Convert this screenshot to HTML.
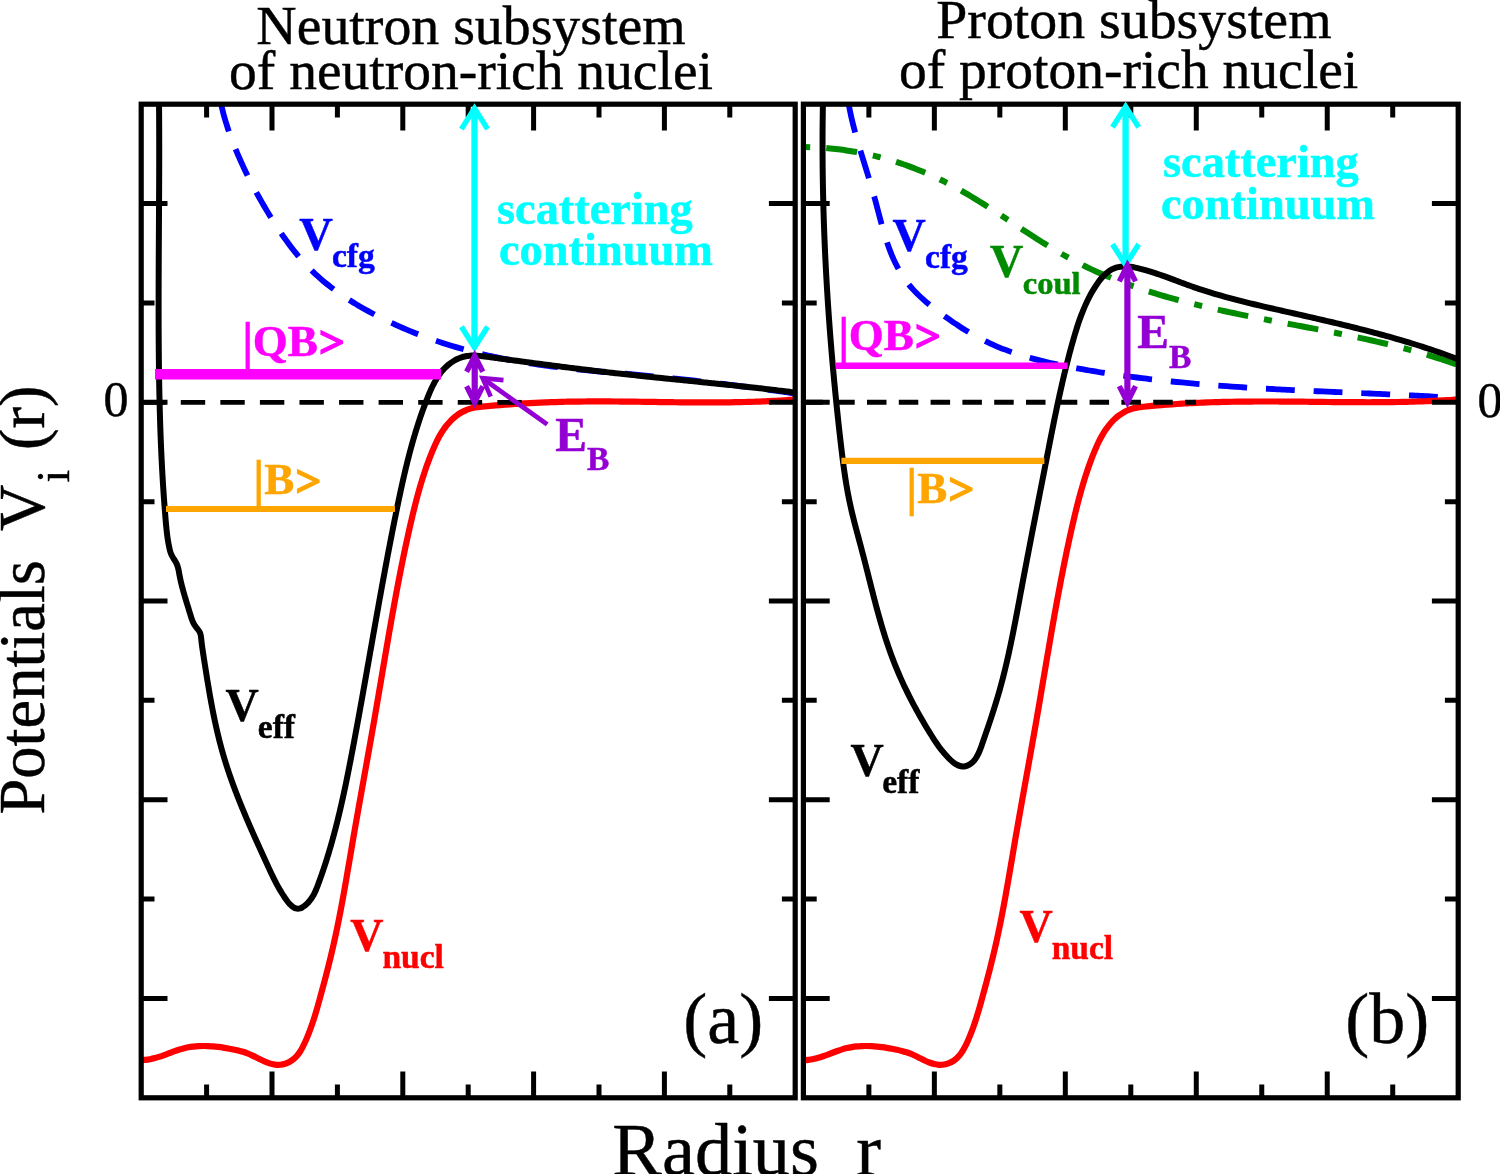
<!DOCTYPE html>
<html lang="en"><head><meta charset="utf-8"><title>Potentials of neutron-rich and proton-rich nuclei</title>
<style>
html,body{margin:0;padding:0;background:#fff;}
body{width:1500px;height:1174px;overflow:hidden;}
svg{display:block;}
text{font-family:"Liberation Serif","Times New Roman",Times,serif;}
.b{font-weight:bold;}
</style></head><body>
<svg width="1500" height="1174" viewBox="0 0 1500 1174" role="img" aria-label="Schematic potentials for neutron-rich and proton-rich nuclei">
<rect x="0" y="0" width="1500" height="1174" fill="#ffffff"/>
<defs>
<clipPath id="ca"><rect x="141.20" y="104.20" width="654.00" height="993.60"/></clipPath>
<clipPath id="cb"><rect x="803.40" y="104.20" width="654.80" height="993.60"/></clipPath>
</defs>
<g id="panel-a-curves">
<path d="M220.30 100.00 C220.47 100.82 220.95 103.29 221.31 104.92 C221.67 106.56 222.05 108.18 222.45 109.81 C222.84 111.43 223.26 113.04 223.69 114.65 C224.13 116.26 224.58 117.86 225.04 119.46 C225.51 121.06 225.99 122.65 226.49 124.24 C226.99 125.83 227.51 127.41 228.03 128.99 C228.56 130.57 229.11 132.14 229.66 133.71 C230.22 135.28 230.79 136.85 231.37 138.41 C231.96 139.97 232.55 141.53 233.16 143.08 C233.77 144.63 234.38 146.18 235.01 147.73 C235.64 149.28 236.28 150.82 236.93 152.36 C237.58 153.90 238.24 155.44 238.91 156.97 C239.58 158.50 240.26 160.03 240.94 161.56 C241.63 163.09 242.33 164.61 243.04 166.13 C243.75 167.65 244.46 169.16 245.19 170.68 C245.91 172.19 246.65 173.70 247.39 175.20 C248.14 176.71 248.89 178.21 249.65 179.71 C250.41 181.21 251.18 182.70 251.96 184.19 C252.73 185.68 253.52 187.17 254.31 188.66 C255.11 190.14 255.91 191.62 256.72 193.09 C257.53 194.57 258.34 196.04 259.17 197.51 C259.99 198.98 260.82 200.44 261.66 201.90 C262.50 203.36 263.35 204.82 264.20 206.27 C265.06 207.72 265.92 209.17 266.78 210.61 C267.65 212.06 268.52 213.50 269.40 214.93 C270.28 216.37 271.17 217.80 272.06 219.23 C272.95 220.66 273.85 222.08 274.76 223.50 C275.67 224.91 276.58 226.32 277.50 227.73 C278.42 229.13 279.35 230.53 280.29 231.93 C281.23 233.32 282.18 234.70 283.13 236.08 C284.09 237.45 285.06 238.82 286.03 240.18 C287.01 241.54 288.00 242.89 288.99 244.23 C289.99 245.57 291.00 246.91 292.02 248.23 C293.04 249.55 294.07 250.86 295.12 252.15 C296.16 253.45 297.21 254.74 298.28 256.01 C299.35 257.29 300.44 258.55 301.53 259.80 C302.63 261.05 303.74 262.28 304.86 263.50 C305.99 264.73 307.12 265.93 308.28 267.13 C309.43 268.32 310.60 269.50 311.79 270.66 C312.97 271.82 314.17 272.97 315.39 274.10 C316.60 275.23 317.83 276.34 319.08 277.45 C320.32 278.55 321.58 279.63 322.85 280.71 C324.13 281.78 325.41 282.84 326.71 283.88 C328.01 284.92 329.32 285.95 330.64 286.97 C331.96 287.99 333.30 288.99 334.64 289.98 C335.99 290.97 337.34 291.94 338.71 292.91 C340.08 293.87 341.46 294.82 342.84 295.76 C344.23 296.70 345.63 297.63 347.03 298.54 C348.44 299.45 349.85 300.36 351.28 301.25 C352.70 302.14 354.13 303.02 355.57 303.88 C357.01 304.75 358.45 305.61 359.90 306.46 C361.36 307.30 362.82 308.14 364.28 308.96 C365.75 309.79 367.22 310.60 368.69 311.41 C370.17 312.21 371.65 313.00 373.14 313.79 C374.62 314.57 376.11 315.35 377.61 316.12 C379.10 316.88 380.60 317.64 382.10 318.39 C383.60 319.13 385.11 319.87 386.62 320.60 C388.13 321.33 389.65 322.05 391.17 322.76 C392.69 323.47 394.21 324.17 395.74 324.86 C397.27 325.55 398.80 326.23 400.33 326.91 C401.87 327.58 403.40 328.24 404.95 328.90 C406.49 329.55 408.03 330.20 409.58 330.84 C411.13 331.48 412.69 332.10 414.24 332.72 C415.80 333.34 417.36 333.96 418.92 334.56 C420.48 335.16 422.05 335.75 423.62 336.34 C425.19 336.93 426.76 337.50 428.33 338.07 C429.91 338.64 431.49 339.20 433.07 339.75 C434.65 340.30 436.24 340.84 437.82 341.38 C439.41 341.91 441.00 342.44 442.59 342.96 C444.19 343.48 445.78 343.99 447.38 344.49 C448.98 344.99 450.58 345.48 452.18 345.97 C453.78 346.46 455.39 346.93 457.00 347.40 C458.61 347.87 460.22 348.34 461.83 348.79 C463.44 349.24 465.06 349.69 466.67 350.13 C468.29 350.57 469.91 351.00 471.53 351.42 C473.15 351.84 474.77 352.26 476.40 352.67 C478.02 353.07 479.65 353.47 481.28 353.87 C482.91 354.26 484.54 354.64 486.17 355.02 C487.80 355.40 489.44 355.77 491.07 356.13 C492.71 356.50 494.34 356.85 495.98 357.20 C497.62 357.55 499.26 357.89 500.90 358.23 C502.54 358.56 504.18 358.89 505.83 359.21 C507.47 359.53 509.12 359.84 510.76 360.15 C512.41 360.45 514.05 360.75 515.70 361.05 C517.35 361.34 519.00 361.62 520.65 361.90 C522.30 362.18 523.95 362.45 525.60 362.72 C527.25 362.99 528.90 363.24 530.56 363.50 C532.21 363.75 533.86 364.00 535.52 364.24 C537.17 364.48 538.83 364.72 540.49 364.95 C542.14 365.18 543.80 365.40 545.46 365.62 C547.11 365.84 548.77 366.06 550.43 366.27 C552.09 366.48 553.75 366.69 555.41 366.89 C557.07 367.09 558.73 367.29 560.39 367.48 C562.05 367.67 563.71 367.86 565.37 368.05 C567.04 368.23 568.70 368.42 570.36 368.60 C572.03 368.77 573.69 368.95 575.35 369.12 C577.02 369.30 578.68 369.46 580.35 369.63 C582.01 369.80 583.68 369.96 585.34 370.13 C587.01 370.29 588.67 370.45 590.34 370.61 C592.00 370.76 593.67 370.92 595.34 371.07 C597.00 371.23 598.67 371.38 600.34 371.53 C602.01 371.69 603.67 371.84 605.34 371.99 C607.01 372.14 608.68 372.28 610.34 372.43 C612.01 372.58 613.68 372.73 615.35 372.88 C617.01 373.02 618.68 373.17 620.35 373.32 C622.02 373.47 623.69 373.61 625.36 373.76 C627.02 373.91 628.69 374.06 630.36 374.21 C632.03 374.36 633.70 374.51 635.36 374.66 C637.03 374.81 638.70 374.96 640.37 375.12 C642.04 375.27 643.70 375.43 645.37 375.59 C647.04 375.74 648.71 375.90 650.37 376.06 C652.04 376.22 653.71 376.38 655.38 376.55 C657.04 376.71 658.71 376.88 660.38 377.04 C662.04 377.21 663.71 377.38 665.38 377.54 C667.04 377.71 668.71 377.88 670.38 378.06 C672.04 378.23 673.71 378.40 675.37 378.58 C677.04 378.75 678.71 378.93 680.37 379.10 C682.04 379.28 683.70 379.46 685.37 379.64 C687.03 379.82 688.70 380.00 690.36 380.19 C692.03 380.37 693.69 380.56 695.36 380.74 C697.02 380.93 698.69 381.12 700.35 381.31 C702.02 381.49 703.68 381.68 705.34 381.88 C707.01 382.07 708.67 382.26 710.33 382.46 C712.00 382.65 713.66 382.85 715.32 383.04 C716.99 383.24 718.65 383.44 720.31 383.64 C721.98 383.84 723.64 384.04 725.30 384.24 C726.96 384.44 728.63 384.65 730.29 384.85 C731.95 385.06 733.61 385.26 735.27 385.47 C736.94 385.68 738.60 385.89 740.26 386.10 C741.92 386.31 743.58 386.52 745.24 386.73 C746.90 386.95 748.56 387.16 750.22 387.38 C751.88 387.59 753.55 387.81 755.21 388.03 C756.87 388.25 758.52 388.47 760.18 388.69 C761.84 388.91 763.50 389.13 765.16 389.35 C766.82 389.57 768.48 389.80 770.14 390.02 C771.80 390.25 773.46 390.48 775.11 390.71 C776.77 390.93 778.43 391.16 780.09 391.39 C781.75 391.62 783.40 391.86 785.06 392.09 C786.72 392.32 788.37 392.56 790.03 392.79 C791.69 393.03 794.17 393.38 795.00 393.50" fill="none" stroke="#0000ff" stroke-width="5.80" stroke-linejoin="round" stroke-linecap="butt" stroke-dasharray="29 19" stroke-dashoffset="-3.50" clip-path="url(#ca)"/>
<path d="M140.00 1059.90 C140.85 1059.89 143.42 1059.96 145.09 1059.85 C146.77 1059.73 148.42 1059.50 150.06 1059.21 C151.70 1058.92 153.32 1058.54 154.93 1058.11 C156.54 1057.69 158.13 1057.19 159.72 1056.67 C161.31 1056.15 162.88 1055.57 164.46 1054.99 C166.04 1054.42 167.61 1053.80 169.18 1053.21 C170.75 1052.62 172.32 1052.00 173.90 1051.43 C175.47 1050.86 177.05 1050.29 178.64 1049.79 C180.22 1049.28 181.82 1048.80 183.42 1048.38 C185.03 1047.97 186.65 1047.62 188.28 1047.32 C189.90 1047.02 191.54 1046.78 193.19 1046.58 C194.83 1046.39 196.49 1046.25 198.15 1046.15 C199.80 1046.05 201.47 1046.01 203.14 1046.00 C204.80 1045.99 206.48 1046.03 208.15 1046.10 C209.82 1046.17 211.50 1046.28 213.17 1046.42 C214.84 1046.56 216.52 1046.74 218.19 1046.94 C219.86 1047.15 221.53 1047.38 223.19 1047.64 C224.85 1047.90 226.52 1048.18 228.17 1048.48 C229.82 1048.78 231.47 1049.10 233.11 1049.44 C234.74 1049.78 236.37 1050.13 237.99 1050.52 C239.60 1050.92 241.21 1051.32 242.79 1051.80 C244.36 1052.28 245.93 1052.80 247.46 1053.39 C249.00 1053.98 250.51 1054.64 252.02 1055.33 C253.52 1056.02 255.00 1056.78 256.49 1057.52 C257.99 1058.26 259.46 1059.06 260.98 1059.79 C262.49 1060.53 264.02 1061.27 265.58 1061.91 C267.14 1062.54 268.74 1063.15 270.36 1063.61 C271.97 1064.06 273.62 1064.45 275.27 1064.63 C276.91 1064.82 278.58 1064.88 280.23 1064.74 C281.87 1064.59 283.55 1064.24 285.13 1063.75 C286.72 1063.25 288.29 1062.57 289.74 1061.77 C291.18 1060.97 292.54 1060.01 293.78 1058.96 C295.03 1057.92 296.15 1056.73 297.21 1055.48 C298.27 1054.24 299.23 1052.88 300.14 1051.49 C301.04 1050.09 301.87 1048.61 302.66 1047.12 C303.45 1045.63 304.18 1044.08 304.89 1042.55 C305.61 1041.01 306.28 1039.45 306.94 1037.90 C307.60 1036.35 308.23 1034.79 308.84 1033.23 C309.45 1031.67 310.04 1030.10 310.61 1028.53 C311.18 1026.96 311.73 1025.39 312.27 1023.82 C312.81 1022.24 313.32 1020.66 313.83 1019.08 C314.34 1017.50 314.83 1015.91 315.31 1014.32 C315.79 1012.74 316.26 1011.15 316.73 1009.55 C317.19 1007.96 317.65 1006.37 318.10 1004.77 C318.55 1003.17 318.99 1001.57 319.43 999.97 C319.88 998.37 320.31 996.77 320.75 995.16 C321.19 993.56 321.63 991.95 322.06 990.35 C322.50 988.74 322.93 987.13 323.36 985.52 C323.79 983.91 324.22 982.30 324.65 980.69 C325.07 979.07 325.50 977.46 325.92 975.84 C326.34 974.23 326.75 972.61 327.17 970.99 C327.58 969.38 327.99 967.76 328.40 966.14 C328.81 964.52 329.21 962.90 329.61 961.27 C330.01 959.65 330.41 958.03 330.80 956.40 C331.19 954.78 331.58 953.16 331.96 951.53 C332.34 949.90 332.72 948.28 333.09 946.65 C333.47 945.02 333.84 943.39 334.20 941.76 C334.56 940.13 334.92 938.50 335.27 936.87 C335.63 935.24 335.98 933.61 336.32 931.98 C336.67 930.35 337.01 928.72 337.34 927.08 C337.68 925.45 338.01 923.82 338.34 922.18 C338.67 920.55 338.99 918.91 339.31 917.28 C339.64 915.64 339.95 914.00 340.27 912.37 C340.58 910.73 340.89 909.09 341.20 907.46 C341.51 905.82 341.82 904.18 342.12 902.54 C342.42 900.90 342.72 899.27 343.02 897.63 C343.32 895.99 343.62 894.35 343.91 892.71 C344.20 891.07 344.49 889.43 344.78 887.79 C345.07 886.15 345.36 884.51 345.65 882.87 C345.93 881.23 346.22 879.59 346.50 877.95 C346.79 876.30 347.07 874.66 347.35 873.02 C347.63 871.38 347.91 869.74 348.19 868.10 C348.47 866.46 348.75 864.81 349.03 863.17 C349.31 861.53 349.59 859.89 349.87 858.25 C350.15 856.61 350.43 854.96 350.71 853.32 C350.98 851.68 351.26 850.04 351.54 848.40 C351.82 846.76 352.10 845.12 352.38 843.47 C352.66 841.83 352.94 840.19 353.23 838.55 C353.51 836.91 353.79 835.27 354.08 833.63 C354.36 831.99 354.65 830.35 354.93 828.71 C355.22 827.07 355.51 825.43 355.79 823.79 C356.08 822.15 356.37 820.51 356.66 818.87 C356.95 817.23 357.24 815.59 357.53 813.95 C357.82 812.31 358.11 810.67 358.40 809.03 C358.69 807.39 358.98 805.75 359.27 804.11 C359.56 802.47 359.86 800.83 360.15 799.19 C360.44 797.56 360.74 795.92 361.03 794.28 C361.32 792.64 361.62 791.00 361.91 789.36 C362.20 787.72 362.50 786.08 362.79 784.44 C363.09 782.80 363.38 781.16 363.68 779.52 C363.97 777.88 364.27 776.24 364.56 774.60 C364.86 772.96 365.15 771.32 365.44 769.68 C365.74 768.05 366.03 766.41 366.33 764.77 C366.62 763.13 366.92 761.48 367.21 759.84 C367.50 758.20 367.80 756.56 368.09 754.92 C368.39 753.28 368.68 751.64 368.97 750.00 C369.26 748.36 369.56 746.72 369.85 745.08 C370.14 743.44 370.43 741.80 370.72 740.15 C371.01 738.51 371.30 736.87 371.59 735.23 C371.88 733.59 372.17 731.94 372.46 730.30 C372.75 728.66 373.04 727.01 373.33 725.37 C373.61 723.73 373.90 722.09 374.19 720.44 C374.47 718.80 374.76 717.15 375.04 715.51 C375.33 713.86 375.61 712.22 375.89 710.58 C376.17 708.93 376.46 707.29 376.74 705.64 C377.02 704.00 377.30 702.35 377.58 700.70 C377.86 699.06 378.14 697.41 378.42 695.77 C378.70 694.12 378.98 692.47 379.26 690.83 C379.54 689.18 379.82 687.54 380.10 685.89 C380.38 684.24 380.66 682.60 380.94 680.95 C381.21 679.30 381.49 677.66 381.77 676.01 C382.05 674.36 382.33 672.72 382.61 671.07 C382.89 669.42 383.17 667.78 383.44 666.13 C383.72 664.49 384.00 662.84 384.28 661.19 C384.56 659.55 384.84 657.90 385.12 656.25 C385.40 654.61 385.68 652.96 385.97 651.32 C386.25 649.67 386.53 648.02 386.81 646.38 C387.09 644.73 387.38 643.09 387.66 641.44 C387.94 639.80 388.23 638.15 388.51 636.51 C388.80 634.86 389.08 633.22 389.37 631.57 C389.66 629.93 389.95 628.29 390.23 626.64 C390.52 625.00 390.81 623.36 391.10 621.71 C391.39 620.07 391.69 618.43 391.98 616.78 C392.27 615.14 392.57 613.50 392.86 611.86 C393.16 610.22 393.45 608.58 393.75 606.94 C394.05 605.29 394.35 603.65 394.65 602.01 C394.95 600.37 395.25 598.74 395.56 597.10 C395.86 595.46 396.17 593.82 396.47 592.18 C396.78 590.54 397.09 588.91 397.40 587.27 C397.71 585.63 398.02 584.00 398.34 582.36 C398.65 580.73 398.97 579.09 399.28 577.46 C399.60 575.82 399.92 574.19 400.24 572.55 C400.56 570.92 400.89 569.29 401.21 567.66 C401.54 566.03 401.87 564.39 402.20 562.76 C402.53 561.13 402.86 559.50 403.19 557.87 C403.53 556.25 403.86 554.62 404.20 552.99 C404.54 551.36 404.88 549.74 405.23 548.11 C405.57 546.48 405.92 544.86 406.27 543.23 C406.62 541.61 406.97 539.99 407.32 538.36 C407.68 536.74 408.04 535.12 408.40 533.50 C408.75 531.88 409.12 530.26 409.48 528.64 C409.85 527.02 410.22 525.40 410.59 523.79 C410.96 522.17 411.33 520.55 411.71 518.94 C412.09 517.32 412.47 515.71 412.86 514.10 C413.25 512.48 413.64 510.87 414.04 509.26 C414.44 507.65 414.84 506.04 415.25 504.43 C415.66 502.82 416.07 501.22 416.50 499.61 C416.92 498.01 417.35 496.40 417.79 494.80 C418.22 493.20 418.67 491.59 419.12 489.99 C419.58 488.39 420.04 486.79 420.51 485.20 C420.98 483.60 421.46 482.00 421.96 480.41 C422.45 478.82 422.95 477.22 423.46 475.63 C423.97 474.04 424.50 472.45 425.03 470.86 C425.57 469.27 426.11 467.69 426.67 466.10 C427.23 464.52 427.80 462.94 428.39 461.36 C428.97 459.77 429.57 458.19 430.18 456.62 C430.80 455.04 431.42 453.46 432.06 451.89 C432.71 450.32 433.36 448.75 434.05 447.20 C434.73 445.65 435.43 444.10 436.16 442.58 C436.90 441.06 437.65 439.55 438.44 438.07 C439.23 436.59 440.05 435.13 440.91 433.70 C441.77 432.27 442.66 430.87 443.60 429.51 C444.53 428.15 445.51 426.82 446.53 425.53 C447.55 424.25 448.62 423.00 449.74 421.81 C450.86 420.61 452.03 419.46 453.25 418.37 C454.48 417.27 455.76 416.23 457.09 415.26 C458.42 414.29 459.81 413.37 461.24 412.54 C462.66 411.72 464.14 410.96 465.65 410.31 C467.16 409.66 468.72 409.10 470.30 408.64 C471.89 408.17 473.51 407.83 475.15 407.52 C476.79 407.22 478.46 407.01 480.12 406.80 C481.79 406.60 483.47 406.46 485.15 406.30 C486.82 406.15 488.50 406.01 490.17 405.87 C491.84 405.72 493.51 405.59 495.17 405.46 C496.84 405.32 498.51 405.20 500.17 405.07 C501.84 404.94 503.50 404.82 505.16 404.70 C506.83 404.58 508.49 404.46 510.15 404.35 C511.81 404.23 513.48 404.12 515.14 404.01 C516.80 403.90 518.46 403.79 520.12 403.68 C521.79 403.58 523.45 403.48 525.11 403.38 C526.77 403.28 528.43 403.18 530.09 403.09 C531.76 403.00 533.42 402.92 535.08 402.83 C536.74 402.75 538.40 402.67 540.07 402.59 C541.73 402.52 543.39 402.45 545.06 402.38 C546.72 402.32 548.38 402.25 550.04 402.19 C551.71 402.14 553.37 402.08 555.04 402.03 C556.70 401.98 558.36 401.93 560.03 401.89 C561.69 401.85 563.36 401.81 565.02 401.77 C566.68 401.73 568.35 401.70 570.01 401.67 C571.68 401.64 573.34 401.61 575.01 401.59 C576.67 401.57 578.34 401.55 580.00 401.53 C581.67 401.51 583.34 401.50 585.00 401.48 C586.67 401.47 588.33 401.46 590.00 401.45 C591.67 401.45 593.33 401.44 595.00 401.44 C596.66 401.44 598.33 401.43 600.00 401.44 C601.66 401.44 603.33 401.44 605.00 401.45 C606.66 401.45 608.33 401.46 610.00 401.47 C611.66 401.48 613.33 401.49 615.00 401.50 C616.67 401.51 618.33 401.52 620.00 401.54 C621.67 401.55 623.34 401.57 625.00 401.59 C626.67 401.60 628.34 401.62 630.01 401.64 C631.67 401.66 633.34 401.68 635.01 401.70 C636.68 401.72 638.35 401.74 640.01 401.76 C641.68 401.79 643.35 401.81 645.02 401.83 C646.68 401.85 648.35 401.88 650.02 401.90 C651.69 401.92 653.36 401.94 655.03 401.97 C656.69 401.99 658.36 402.01 660.03 402.04 C661.70 402.06 663.37 402.08 665.03 402.10 C666.70 402.13 668.37 402.15 670.04 402.17 C671.71 402.19 673.37 402.21 675.04 402.23 C676.71 402.25 678.38 402.27 680.05 402.28 C681.72 402.30 683.38 402.32 685.05 402.33 C686.72 402.35 688.39 402.36 690.06 402.37 C691.72 402.39 693.39 402.40 695.06 402.41 C696.73 402.42 698.40 402.42 700.06 402.43 C701.73 402.44 703.40 402.44 705.07 402.44 C706.73 402.44 708.40 402.44 710.07 402.44 C711.74 402.44 713.40 402.44 715.07 402.43 C716.74 402.42 718.41 402.41 720.07 402.40 C721.74 402.39 723.41 402.38 725.07 402.36 C726.74 402.34 728.41 402.32 730.07 402.30 C731.74 402.28 733.41 402.25 735.07 402.22 C736.74 402.20 738.41 402.16 740.07 402.13 C741.74 402.09 743.41 402.05 745.07 402.01 C746.74 401.97 748.40 401.92 750.07 401.88 C751.73 401.83 753.40 401.77 755.07 401.72 C756.73 401.66 758.40 401.60 760.06 401.53 C761.73 401.47 763.39 401.40 765.06 401.33 C766.72 401.25 768.39 401.17 770.05 401.09 C771.71 401.01 773.38 400.92 775.04 400.83 C776.71 400.74 778.37 400.64 780.03 400.54 C781.70 400.44 783.36 400.34 785.02 400.23 C786.69 400.11 788.35 400.00 790.01 399.88 C791.67 399.76 794.17 399.56 795.00 399.50" fill="none" stroke="#ff0000" stroke-width="6.20" stroke-linejoin="round" stroke-linecap="butt" clip-path="url(#ca)"/>
<path d="M141.20 402.40 L523.00 402.40" fill="none" stroke="#000000" stroke-width="4.90" stroke-linejoin="round" stroke-linecap="butt" stroke-dasharray="24.4 15.17" stroke-dashoffset="0.00"/>
<path d="M159.00 100.00 C159.00 100.42 159.01 101.67 159.02 102.50 C159.03 103.33 159.04 104.17 159.04 105.00 C159.05 105.83 159.06 106.67 159.06 107.50 C159.07 108.33 159.08 109.17 159.08 110.00 C159.09 110.84 159.09 111.67 159.10 112.50 C159.11 113.34 159.11 114.17 159.12 115.00 C159.12 115.84 159.13 116.67 159.13 117.50 C159.14 118.34 159.14 119.17 159.14 120.00 C159.15 120.84 159.15 121.67 159.16 122.50 C159.16 123.34 159.16 124.17 159.17 125.01 C159.17 125.84 159.18 126.67 159.18 127.51 C159.18 128.34 159.18 129.17 159.19 130.01 C159.19 130.84 159.19 131.67 159.19 132.51 C159.20 133.34 159.20 134.17 159.20 135.01 C159.20 135.84 159.20 136.68 159.21 137.51 C159.21 138.34 159.21 139.18 159.21 140.01 C159.21 140.84 159.21 141.68 159.21 142.51 C159.21 143.34 159.22 144.18 159.22 145.01 C159.22 145.84 159.22 146.68 159.22 147.51 C159.22 148.35 159.22 149.18 159.22 150.01 C159.22 150.85 159.22 151.68 159.22 152.51 C159.22 153.35 159.22 154.18 159.22 155.02 C159.22 155.85 159.21 156.68 159.21 157.52 C159.21 158.35 159.21 159.18 159.21 160.02 C159.21 160.85 159.21 161.68 159.21 162.52 C159.20 163.35 159.20 164.19 159.20 165.02 C159.20 165.85 159.20 166.69 159.20 167.52 C159.19 168.35 159.19 169.19 159.19 170.02 C159.19 170.85 159.19 171.69 159.18 172.52 C159.18 173.36 159.18 174.19 159.18 175.02 C159.17 175.86 159.17 176.69 159.17 177.52 C159.16 178.36 159.16 179.19 159.16 180.03 C159.16 180.86 159.15 181.69 159.15 182.53 C159.15 183.36 159.14 184.19 159.14 185.03 C159.14 185.86 159.13 186.70 159.13 187.53 C159.13 188.36 159.12 189.20 159.12 190.03 C159.11 190.86 159.11 191.70 159.11 192.53 C159.10 193.37 159.10 194.20 159.10 195.03 C159.09 195.87 159.09 196.70 159.08 197.53 C159.08 198.37 159.08 199.20 159.07 200.04 C159.07 200.87 159.06 201.70 159.06 202.54 C159.05 203.37 159.05 204.20 159.05 205.04 C159.04 205.87 159.04 206.71 159.03 207.54 C159.03 208.37 159.02 209.21 159.02 210.04 C159.01 210.87 159.01 211.71 159.00 212.54 C159.00 213.38 159.00 214.21 158.99 215.04 C158.99 215.88 158.98 216.71 158.98 217.54 C158.97 218.38 158.97 219.21 158.96 220.05 C158.96 220.88 158.95 221.71 158.95 222.55 C158.94 223.38 158.94 224.21 158.93 225.05 C158.93 225.88 158.92 226.72 158.92 227.55 C158.91 228.38 158.91 229.22 158.91 230.05 C158.90 230.88 158.90 231.72 158.89 232.55 C158.89 233.39 158.88 234.22 158.88 235.05 C158.87 235.89 158.87 236.72 158.86 237.55 C158.86 238.39 158.85 239.22 158.85 240.06 C158.84 240.89 158.84 241.72 158.83 242.56 C158.83 243.39 158.82 244.22 158.82 245.06 C158.82 245.89 158.81 246.73 158.81 247.56 C158.80 248.39 158.80 249.23 158.79 250.06 C158.79 250.89 158.78 251.73 158.78 252.56 C158.78 253.40 158.77 254.23 158.77 255.06 C158.76 255.90 158.76 256.73 158.75 257.56 C158.75 258.40 158.75 259.23 158.74 260.07 C158.74 260.90 158.73 261.73 158.73 262.57 C158.73 263.40 158.72 264.23 158.72 265.07 C158.71 265.90 158.71 266.74 158.71 267.57 C158.70 268.40 158.70 269.24 158.70 270.07 C158.69 270.90 158.69 271.74 158.69 272.57 C158.68 273.41 158.68 274.24 158.68 275.07 C158.67 275.91 158.67 276.74 158.67 277.57 C158.67 278.41 158.66 279.24 158.66 280.08 C158.66 280.91 158.65 281.74 158.65 282.58 C158.65 283.41 158.65 284.24 158.64 285.08 C158.64 285.91 158.64 286.75 158.64 287.58 C158.64 288.41 158.63 289.25 158.63 290.08 C158.63 290.91 158.63 291.75 158.63 292.58 C158.63 293.42 158.62 294.25 158.62 295.08 C158.62 295.92 158.62 296.75 158.62 297.58 C158.62 298.42 158.62 299.25 158.62 300.09 C158.62 300.92 158.61 301.75 158.61 302.59 C158.61 303.42 158.61 304.25 158.61 305.09 C158.61 305.92 158.61 306.75 158.61 307.59 C158.61 308.42 158.61 309.26 158.61 310.09 C158.61 310.92 158.61 311.76 158.61 312.59 C158.62 313.42 158.62 314.26 158.62 315.09 C158.62 315.93 158.62 316.76 158.62 317.59 C158.62 318.43 158.62 319.26 158.63 320.09 C158.63 320.93 158.63 321.76 158.63 322.59 C158.63 323.43 158.64 324.26 158.64 325.10 C158.64 325.93 158.64 326.76 158.65 327.60 C158.65 328.43 158.65 329.26 158.66 330.10 C158.66 330.93 158.66 331.76 158.67 332.60 C158.67 333.43 158.67 334.26 158.68 335.10 C158.68 335.93 158.69 336.77 158.69 337.60 C158.69 338.43 158.70 339.27 158.70 340.10 C158.71 340.93 158.71 341.77 158.72 342.60 C158.73 343.43 158.73 344.27 158.74 345.10 C158.74 345.94 158.75 346.77 158.75 347.60 C158.76 348.44 158.77 349.27 158.77 350.10 C158.78 350.94 158.79 351.77 158.80 352.60 C158.80 353.44 158.81 354.27 158.82 355.10 C158.83 355.94 158.83 356.77 158.84 357.60 C158.85 358.44 158.86 359.27 158.87 360.11 C158.88 360.94 158.89 361.77 158.90 362.61 C158.90 363.44 158.91 364.27 158.92 365.11 C158.93 365.94 158.94 366.77 158.95 367.61 C158.97 368.44 158.98 369.27 158.99 370.11 C159.00 370.94 159.01 371.77 159.02 372.61 C159.03 373.44 159.04 374.27 159.06 375.11 C159.07 375.94 159.08 376.77 159.10 377.61 C159.11 378.44 159.12 379.27 159.14 380.11 C159.15 380.94 159.16 381.77 159.18 382.61 C159.19 383.44 159.21 384.27 159.22 385.11 C159.24 385.94 159.25 386.77 159.27 387.61 C159.28 388.44 159.30 389.27 159.31 390.11 C159.33 390.94 159.35 391.77 159.36 392.61 C159.38 393.44 159.40 394.27 159.42 395.11 C159.43 395.94 159.45 396.77 159.47 397.61 C159.49 398.44 159.51 399.27 159.53 400.11 C159.55 400.94 159.57 401.77 159.59 402.61 C159.61 403.44 159.63 404.27 159.65 405.10 C159.67 405.94 159.69 406.77 159.71 407.60 C159.73 408.44 159.75 409.27 159.78 410.10 C159.80 410.94 159.82 411.77 159.84 412.60 C159.87 413.44 159.89 414.27 159.92 415.10 C159.94 415.94 159.96 416.77 159.99 417.60 C160.01 418.43 160.04 419.27 160.06 420.10 C160.09 420.93 160.12 421.77 160.14 422.60 C160.17 423.43 160.20 424.26 160.22 425.10 C160.25 425.93 160.28 426.76 160.31 427.60 C160.34 428.43 160.36 429.26 160.39 430.09 C160.42 430.93 160.45 431.76 160.48 432.59 C160.51 433.43 160.54 434.26 160.57 435.09 C160.61 435.92 160.64 436.76 160.67 437.59 C160.70 438.42 160.73 439.26 160.77 440.09 C160.80 440.92 160.83 441.75 160.87 442.59 C160.90 443.42 160.94 444.25 160.97 445.08 C161.01 445.92 161.04 446.75 161.08 447.58 C161.11 448.42 161.15 449.25 161.19 450.08 C161.22 450.91 161.26 451.75 161.30 452.58 C161.34 453.41 161.38 454.24 161.42 455.08 C161.45 455.91 161.49 456.74 161.53 457.57 C161.57 458.41 161.62 459.24 161.66 460.07 C161.70 460.90 161.74 461.74 161.78 462.57 C161.82 463.40 161.87 464.23 161.91 465.06 C161.95 465.90 162.00 466.73 162.04 467.56 C162.09 468.39 162.13 469.23 162.18 470.06 C162.22 470.89 162.27 471.72 162.32 472.56 C162.36 473.39 162.41 474.22 162.46 475.05 C162.51 475.88 162.55 476.72 162.60 477.55 C162.65 478.38 162.70 479.21 162.75 480.04 C162.80 480.88 162.85 481.71 162.91 482.54 C162.96 483.37 163.01 484.20 163.06 485.04 C163.11 485.87 163.17 486.70 163.22 487.53 C163.28 488.36 163.33 489.20 163.39 490.03 C163.44 490.86 163.50 491.69 163.55 492.52 C163.61 493.36 163.67 494.19 163.72 495.02 C163.78 495.85 163.84 496.68 163.90 497.52 C163.96 498.35 164.02 499.18 164.08 500.01 C164.14 500.84 164.20 501.67 164.26 502.51 C164.32 503.34 164.38 504.17 164.45 505.00 C164.51 505.83 164.57 506.66 164.64 507.50 C164.70 508.33 164.76 509.16 164.83 509.99 C164.90 510.82 164.96 511.65 165.03 512.48 C165.10 513.32 165.16 514.15 165.23 514.98 C165.30 515.81 165.37 516.64 165.44 517.47 C165.51 518.30 165.58 519.14 165.65 519.97 C165.72 520.80 165.79 521.63 165.86 522.46 C165.94 523.29 166.01 524.12 166.09 524.95 C166.17 525.78 166.24 526.61 166.33 527.44 C166.41 528.27 166.49 529.10 166.58 529.93 C166.67 530.76 166.76 531.59 166.85 532.42 C166.95 533.25 167.05 534.08 167.16 534.90 C167.26 535.73 167.37 536.56 167.49 537.38 C167.60 538.21 167.73 539.03 167.85 539.86 C167.98 540.68 168.12 541.50 168.26 542.33 C168.40 543.15 168.55 543.97 168.71 544.79 C168.86 545.61 169.03 546.43 169.20 547.24 C169.38 548.06 169.55 548.88 169.76 549.69 C169.97 550.50 170.18 551.30 170.44 552.09 C170.70 552.88 170.98 553.66 171.31 554.42 C171.64 555.18 172.02 555.92 172.43 556.65 C172.83 557.38 173.29 558.09 173.74 558.80 C174.18 559.51 174.66 560.21 175.09 560.93 C175.52 561.65 175.96 562.36 176.32 563.11 C176.69 563.85 177.02 564.61 177.30 565.38 C177.59 566.15 177.82 566.95 178.03 567.75 C178.25 568.55 178.42 569.37 178.59 570.19 C178.77 571.01 178.91 571.84 179.06 572.67 C179.21 573.50 179.36 574.33 179.51 575.15 C179.67 575.98 179.83 576.80 180.00 577.63 C180.17 578.45 180.35 579.27 180.53 580.08 C180.71 580.90 180.89 581.72 181.09 582.53 C181.28 583.34 181.47 584.15 181.68 584.96 C181.88 585.77 182.08 586.58 182.30 587.39 C182.51 588.19 182.72 589.00 182.94 589.80 C183.16 590.60 183.38 591.41 183.61 592.21 C183.83 593.01 184.06 593.81 184.29 594.61 C184.52 595.41 184.76 596.21 184.99 597.00 C185.23 597.80 185.47 598.60 185.71 599.39 C185.95 600.19 186.19 600.98 186.43 601.78 C186.67 602.58 186.92 603.37 187.16 604.16 C187.41 604.96 187.65 605.75 187.90 606.55 C188.14 607.34 188.39 608.14 188.63 608.93 C188.88 609.73 189.12 610.52 189.36 611.32 C189.61 612.11 189.85 612.91 190.09 613.71 C190.33 614.50 190.57 615.30 190.82 616.10 C191.06 616.89 191.31 617.68 191.58 618.47 C191.86 619.25 192.14 620.03 192.46 620.79 C192.78 621.56 193.12 622.31 193.49 623.05 C193.87 623.79 194.28 624.51 194.71 625.21 C195.15 625.92 195.63 626.60 196.13 627.27 C196.63 627.94 197.20 628.56 197.71 629.22 C198.21 629.87 198.76 630.50 199.18 631.19 C199.60 631.89 199.95 632.61 200.22 633.38 C200.49 634.14 200.66 634.95 200.82 635.77 C200.98 636.59 201.06 637.44 201.16 638.28 C201.26 639.13 201.33 639.98 201.43 640.83 C201.52 641.67 201.62 642.51 201.72 643.35 C201.82 644.19 201.93 645.02 202.04 645.86 C202.15 646.69 202.27 647.52 202.38 648.34 C202.50 649.17 202.62 649.99 202.75 650.82 C202.87 651.64 202.99 652.46 203.12 653.28 C203.25 654.11 203.37 654.93 203.50 655.75 C203.63 656.57 203.76 657.39 203.88 658.21 C204.01 659.03 204.14 659.85 204.27 660.67 C204.39 661.50 204.52 662.32 204.65 663.14 C204.78 663.96 204.91 664.78 205.03 665.60 C205.16 666.43 205.29 667.25 205.42 668.07 C205.55 668.89 205.68 669.71 205.81 670.54 C205.94 671.36 206.07 672.18 206.20 673.00 C206.33 673.82 206.46 674.65 206.60 675.47 C206.73 676.29 206.86 677.11 206.99 677.94 C207.13 678.76 207.26 679.58 207.39 680.40 C207.53 681.22 207.66 682.05 207.80 682.87 C207.93 683.69 208.07 684.51 208.21 685.33 C208.34 686.16 208.48 686.98 208.62 687.80 C208.76 688.62 208.90 689.44 209.04 690.26 C209.18 691.09 209.32 691.91 209.47 692.73 C209.61 693.55 209.75 694.37 209.90 695.19 C210.04 696.01 210.19 696.83 210.33 697.65 C210.48 698.47 210.63 699.29 210.78 700.11 C210.92 700.93 211.07 701.75 211.23 702.57 C211.38 703.39 211.53 704.21 211.68 705.03 C211.84 705.85 211.99 706.67 212.15 707.49 C212.30 708.31 212.46 709.13 212.62 709.95 C212.78 710.76 212.94 711.58 213.10 712.40 C213.27 713.22 213.43 714.04 213.59 714.85 C213.76 715.67 213.93 716.49 214.09 717.30 C214.26 718.12 214.43 718.94 214.60 719.75 C214.78 720.57 214.95 721.38 215.12 722.20 C215.30 723.01 215.48 723.83 215.65 724.64 C215.83 725.45 216.01 726.27 216.19 727.08 C216.38 727.90 216.56 728.71 216.75 729.52 C216.93 730.33 217.12 731.15 217.31 731.96 C217.50 732.77 217.69 733.58 217.89 734.39 C218.08 735.20 218.27 736.01 218.47 736.82 C218.67 737.63 218.87 738.44 219.07 739.25 C219.28 740.06 219.48 740.86 219.69 741.67 C219.89 742.48 220.10 743.29 220.31 744.09 C220.52 744.90 220.74 745.71 220.95 746.51 C221.17 747.32 221.39 748.12 221.61 748.92 C221.83 749.73 222.05 750.53 222.28 751.34 C222.50 752.14 222.73 752.94 222.96 753.74 C223.19 754.54 223.42 755.34 223.66 756.15 C223.90 756.95 224.13 757.75 224.37 758.54 C224.62 759.34 224.86 760.14 225.10 760.94 C225.35 761.74 225.60 762.53 225.85 763.33 C226.10 764.13 226.35 764.92 226.61 765.72 C226.86 766.51 227.12 767.31 227.38 768.10 C227.64 768.90 227.90 769.69 228.16 770.48 C228.43 771.27 228.69 772.07 228.96 772.86 C229.23 773.65 229.50 774.44 229.77 775.23 C230.04 776.02 230.32 776.81 230.59 777.60 C230.87 778.39 231.15 779.18 231.43 779.96 C231.71 780.75 231.99 781.54 232.27 782.32 C232.56 783.11 232.84 783.90 233.13 784.68 C233.42 785.47 233.71 786.25 234.00 787.04 C234.29 787.82 234.58 788.60 234.88 789.39 C235.17 790.17 235.47 790.95 235.77 791.73 C236.06 792.51 236.36 793.29 236.66 794.07 C236.97 794.85 237.27 795.63 237.57 796.41 C237.88 797.19 238.18 797.97 238.49 798.75 C238.80 799.53 239.11 800.30 239.42 801.08 C239.73 801.86 240.04 802.63 240.35 803.41 C240.66 804.18 240.98 804.96 241.29 805.73 C241.61 806.51 241.92 807.28 242.24 808.06 C242.56 808.83 242.88 809.60 243.20 810.37 C243.52 811.15 243.84 811.92 244.16 812.69 C244.49 813.46 244.81 814.23 245.13 815.00 C245.46 815.77 245.78 816.54 246.11 817.31 C246.44 818.07 246.77 818.84 247.09 819.61 C247.42 820.38 247.75 821.14 248.08 821.91 C248.41 822.68 248.74 823.44 249.08 824.21 C249.41 824.97 249.74 825.74 250.07 826.50 C250.41 827.26 250.74 828.03 251.08 828.79 C251.41 829.55 251.75 830.32 252.08 831.08 C252.42 831.84 252.76 832.60 253.09 833.36 C253.43 834.12 253.77 834.88 254.11 835.64 C254.45 836.40 254.79 837.16 255.13 837.92 C255.47 838.68 255.81 839.43 256.15 840.19 C256.49 840.95 256.83 841.71 257.17 842.46 C257.51 843.22 257.85 843.97 258.19 844.73 C258.53 845.48 258.88 846.24 259.22 846.99 C259.56 847.75 259.90 848.50 260.25 849.25 C260.59 850.01 260.93 850.76 261.27 851.51 C261.62 852.26 261.96 853.01 262.30 853.76 C262.65 854.52 262.99 855.27 263.33 856.02 C263.67 856.76 264.02 857.51 264.36 858.26 C264.70 859.01 265.05 859.76 265.39 860.51 C265.73 861.26 266.07 862.00 266.42 862.75 C266.76 863.50 267.10 864.24 267.44 864.99 C267.78 865.73 268.12 866.48 268.47 867.22 C268.81 867.97 269.15 868.71 269.50 869.46 C269.84 870.20 270.19 870.94 270.53 871.69 C270.88 872.43 271.23 873.17 271.59 873.92 C271.94 874.66 272.30 875.40 272.66 876.14 C273.02 876.89 273.38 877.63 273.75 878.37 C274.12 879.11 274.49 879.86 274.87 880.60 C275.25 881.34 275.63 882.09 276.02 882.83 C276.41 883.57 276.81 884.31 277.21 885.06 C277.61 885.80 278.02 886.54 278.44 887.29 C278.86 888.03 279.29 888.78 279.72 889.52 C280.16 890.27 280.60 891.01 281.05 891.76 C281.50 892.50 281.97 893.25 282.44 894.00 C282.91 894.74 283.39 895.49 283.89 896.24 C284.38 896.99 284.88 897.74 285.40 898.49 C285.92 899.23 286.44 899.99 286.98 900.71 C287.52 901.43 288.07 902.15 288.64 902.82 C289.20 903.49 289.77 904.15 290.36 904.74 C290.94 905.33 291.54 905.89 292.15 906.37 C292.76 906.86 293.38 907.29 294.01 907.64 C294.64 907.98 295.29 908.26 295.94 908.44 C296.60 908.61 297.27 908.70 297.94 908.69 C298.62 908.68 299.32 908.55 300.01 908.35 C300.70 908.15 301.40 907.85 302.09 907.49 C302.79 907.12 303.48 906.68 304.16 906.18 C304.85 905.69 305.53 905.12 306.18 904.52 C306.84 903.92 307.49 903.26 308.11 902.59 C308.73 901.91 309.33 901.20 309.90 900.47 C310.47 899.75 311.02 899.00 311.53 898.25 C312.04 897.51 312.51 896.76 312.95 896.01 C313.39 895.26 313.80 894.51 314.19 893.76 C314.57 893.02 314.93 892.27 315.28 891.51 C315.62 890.76 315.94 890.01 316.25 889.25 C316.56 888.50 316.86 887.74 317.15 886.99 C317.45 886.23 317.74 885.47 318.02 884.70 C318.31 883.94 318.59 883.18 318.88 882.41 C319.16 881.64 319.44 880.87 319.72 880.10 C320.00 879.33 320.28 878.55 320.56 877.78 C320.84 877.00 321.11 876.22 321.39 875.44 C321.66 874.66 321.93 873.88 322.20 873.10 C322.47 872.32 322.74 871.53 323.01 870.74 C323.27 869.96 323.54 869.17 323.80 868.38 C324.07 867.59 324.33 866.80 324.59 866.01 C324.85 865.22 325.11 864.42 325.36 863.63 C325.62 862.83 325.88 862.04 326.13 861.24 C326.38 860.44 326.64 859.65 326.89 858.85 C327.14 858.05 327.38 857.25 327.63 856.45 C327.88 855.65 328.12 854.85 328.37 854.05 C328.61 853.24 328.85 852.44 329.09 851.64 C329.33 850.84 329.57 850.03 329.81 849.23 C330.04 848.43 330.28 847.62 330.51 846.82 C330.74 846.01 330.97 845.21 331.20 844.40 C331.43 843.60 331.66 842.80 331.89 841.99 C332.11 841.18 332.34 840.38 332.56 839.57 C332.79 838.77 333.01 837.96 333.23 837.16 C333.45 836.35 333.67 835.54 333.88 834.74 C334.10 833.93 334.32 833.12 334.53 832.32 C334.74 831.51 334.96 830.70 335.17 829.89 C335.38 829.09 335.59 828.28 335.80 827.47 C336.01 826.66 336.21 825.85 336.42 825.04 C336.62 824.24 336.83 823.43 337.03 822.62 C337.23 821.81 337.43 821.00 337.63 820.19 C337.84 819.38 338.03 818.57 338.23 817.76 C338.43 816.95 338.63 816.14 338.82 815.33 C339.02 814.52 339.21 813.71 339.40 812.90 C339.60 812.09 339.79 811.28 339.98 810.47 C340.17 809.65 340.36 808.84 340.54 808.03 C340.73 807.22 340.92 806.41 341.11 805.60 C341.29 804.78 341.48 803.97 341.66 803.16 C341.84 802.35 342.03 801.53 342.21 800.72 C342.39 799.91 342.57 799.10 342.75 798.28 C342.93 797.47 343.11 796.66 343.29 795.84 C343.46 795.03 343.64 794.22 343.82 793.40 C343.99 792.59 344.17 791.77 344.34 790.96 C344.52 790.15 344.69 789.33 344.86 788.52 C345.03 787.70 345.21 786.89 345.38 786.07 C345.55 785.26 345.72 784.44 345.89 783.63 C346.06 782.81 346.23 782.00 346.39 781.18 C346.56 780.37 346.73 779.55 346.89 778.74 C347.06 777.92 347.23 777.10 347.39 776.29 C347.56 775.47 347.72 774.66 347.88 773.84 C348.05 773.02 348.21 772.21 348.37 771.39 C348.54 770.57 348.70 769.76 348.86 768.94 C349.02 768.12 349.18 767.31 349.34 766.49 C349.50 765.67 349.66 764.86 349.82 764.04 C349.98 763.22 350.14 762.40 350.30 761.59 C350.46 760.77 350.62 759.95 350.77 759.13 C350.93 758.32 351.09 757.50 351.25 756.68 C351.40 755.86 351.56 755.05 351.72 754.23 C351.87 753.41 352.03 752.59 352.18 751.77 C352.34 750.95 352.49 750.14 352.65 749.32 C352.80 748.50 352.96 747.68 353.11 746.86 C353.27 746.04 353.42 745.22 353.58 744.41 C353.73 743.59 353.88 742.77 354.04 741.95 C354.19 741.13 354.34 740.31 354.50 739.49 C354.65 738.67 354.80 737.85 354.96 737.04 C355.11 736.22 355.26 735.40 355.41 734.58 C355.57 733.76 355.72 732.94 355.87 732.12 C356.02 731.30 356.17 730.48 356.32 729.66 C356.48 728.84 356.63 728.02 356.78 727.20 C356.93 726.38 357.08 725.56 357.23 724.74 C357.38 723.92 357.53 723.10 357.68 722.28 C357.83 721.46 357.98 720.64 358.13 719.82 C358.28 719.00 358.43 718.18 358.58 717.36 C358.73 716.54 358.88 715.72 359.03 714.90 C359.18 714.08 359.33 713.26 359.48 712.44 C359.62 711.62 359.77 710.80 359.92 709.98 C360.07 709.16 360.22 708.34 360.37 707.51 C360.52 706.69 360.66 705.87 360.81 705.05 C360.96 704.23 361.11 703.41 361.26 702.59 C361.40 701.77 361.55 700.95 361.70 700.13 C361.85 699.31 361.99 698.49 362.14 697.66 C362.29 696.84 362.43 696.02 362.58 695.20 C362.73 694.38 362.88 693.56 363.02 692.74 C363.17 691.92 363.32 691.09 363.46 690.27 C363.61 689.45 363.76 688.63 363.90 687.81 C364.05 686.99 364.19 686.17 364.34 685.35 C364.49 684.52 364.63 683.70 364.78 682.88 C364.93 682.06 365.07 681.24 365.22 680.42 C365.36 679.60 365.51 678.77 365.66 677.95 C365.80 677.13 365.95 676.31 366.09 675.49 C366.24 674.67 366.38 673.84 366.53 673.02 C366.67 672.20 366.82 671.38 366.97 670.56 C367.11 669.74 367.26 668.91 367.40 668.09 C367.55 667.27 367.69 666.45 367.84 665.63 C367.98 664.81 368.13 663.98 368.27 663.16 C368.42 662.34 368.56 661.52 368.71 660.70 C368.85 659.87 369.00 659.05 369.14 658.23 C369.29 657.41 369.44 656.59 369.58 655.77 C369.73 654.94 369.87 654.12 370.02 653.30 C370.16 652.48 370.31 651.66 370.45 650.83 C370.60 650.01 370.74 649.19 370.89 648.37 C371.03 647.55 371.18 646.72 371.32 645.90 C371.47 645.08 371.61 644.26 371.76 643.44 C371.90 642.62 372.05 641.79 372.19 640.97 C372.34 640.15 372.48 639.33 372.63 638.51 C372.77 637.68 372.92 636.86 373.07 636.04 C373.21 635.22 373.36 634.40 373.50 633.58 C373.65 632.75 373.79 631.93 373.94 631.11 C374.08 630.29 374.23 629.47 374.38 628.65 C374.52 627.82 374.67 627.00 374.81 626.18 C374.96 625.36 375.11 624.54 375.25 623.72 C375.40 622.89 375.54 622.07 375.69 621.25 C375.84 620.43 375.98 619.61 376.13 618.79 C376.27 617.97 376.42 617.14 376.57 616.32 C376.71 615.50 376.86 614.68 377.01 613.86 C377.15 613.04 377.30 612.22 377.45 611.39 C377.60 610.57 377.74 609.75 377.89 608.93 C378.04 608.11 378.18 607.29 378.33 606.47 C378.48 605.65 378.63 604.82 378.77 604.00 C378.92 603.18 379.07 602.36 379.22 601.54 C379.37 600.72 379.51 599.90 379.66 599.08 C379.81 598.26 379.96 597.44 380.11 596.61 C380.25 595.79 380.40 594.97 380.55 594.15 C380.70 593.33 380.85 592.51 381.00 591.69 C381.15 590.87 381.30 590.05 381.45 589.23 C381.60 588.41 381.75 587.59 381.90 586.77 C382.05 585.95 382.20 585.13 382.35 584.31 C382.50 583.49 382.65 582.67 382.80 581.85 C382.95 581.03 383.10 580.21 383.25 579.39 C383.40 578.57 383.55 577.75 383.70 576.93 C383.85 576.11 384.00 575.29 384.16 574.47 C384.31 573.65 384.46 572.83 384.61 572.01 C384.76 571.19 384.92 570.37 385.07 569.55 C385.22 568.73 385.37 567.91 385.53 567.09 C385.68 566.27 385.83 565.45 385.99 564.63 C386.14 563.81 386.29 562.99 386.45 562.17 C386.60 561.35 386.76 560.54 386.91 559.72 C387.06 558.90 387.22 558.08 387.37 557.26 C387.53 556.44 387.68 555.62 387.84 554.80 C387.99 553.99 388.15 553.17 388.31 552.35 C388.46 551.53 388.62 550.71 388.77 549.89 C388.93 549.07 389.09 548.26 389.24 547.44 C389.40 546.62 389.56 545.80 389.72 544.98 C389.87 544.17 390.03 543.35 390.19 542.53 C390.35 541.71 390.51 540.90 390.66 540.08 C390.82 539.26 390.98 538.44 391.14 537.63 C391.30 536.81 391.46 535.99 391.62 535.17 C391.78 534.36 391.94 533.54 392.10 532.72 C392.26 531.91 392.42 531.09 392.58 530.27 C392.74 529.46 392.91 528.64 393.07 527.82 C393.23 527.01 393.39 526.19 393.55 525.37 C393.72 524.56 393.88 523.74 394.04 522.92 C394.21 522.11 394.37 521.29 394.53 520.48 C394.70 519.66 394.86 518.84 395.02 518.03 C395.19 517.21 395.35 516.40 395.52 515.58 C395.68 514.77 395.85 513.95 396.02 513.14 C396.18 512.32 396.35 511.51 396.52 510.69 C396.68 509.88 396.85 509.06 397.02 508.25 C397.18 507.43 397.35 506.62 397.52 505.80 C397.69 504.99 397.86 504.17 398.03 503.36 C398.19 502.55 398.36 501.73 398.53 500.92 C398.70 500.10 398.88 499.29 399.05 498.48 C399.22 497.66 399.39 496.85 399.56 496.04 C399.74 495.22 399.91 494.41 400.08 493.60 C400.26 492.78 400.43 491.97 400.61 491.16 C400.78 490.35 400.96 489.53 401.13 488.72 C401.31 487.91 401.49 487.10 401.67 486.29 C401.85 485.47 402.02 484.66 402.21 483.85 C402.39 483.04 402.57 482.23 402.75 481.42 C402.93 480.61 403.11 479.80 403.30 478.98 C403.48 478.17 403.67 477.36 403.85 476.55 C404.04 475.74 404.23 474.93 404.42 474.12 C404.60 473.31 404.79 472.50 404.98 471.70 C405.17 470.89 405.37 470.08 405.56 469.27 C405.75 468.46 405.95 467.65 406.14 466.84 C406.34 466.03 406.53 465.23 406.73 464.42 C406.93 463.61 407.13 462.80 407.33 462.00 C407.53 461.19 407.73 460.38 407.94 459.58 C408.14 458.77 408.35 457.96 408.55 457.16 C408.76 456.35 408.97 455.54 409.18 454.74 C409.39 453.93 409.60 453.13 409.81 452.32 C410.02 451.52 410.24 450.71 410.45 449.91 C410.67 449.11 410.89 448.30 411.11 447.50 C411.33 446.69 411.55 445.89 411.77 445.09 C411.99 444.29 412.22 443.48 412.45 442.68 C412.67 441.88 412.90 441.08 413.13 440.27 C413.36 439.47 413.59 438.67 413.83 437.87 C414.06 437.07 414.30 436.27 414.53 435.47 C414.77 434.67 415.01 433.87 415.25 433.07 C415.50 432.27 415.74 431.47 415.99 430.67 C416.23 429.87 416.48 429.08 416.73 428.28 C416.98 427.48 417.23 426.68 417.49 425.89 C417.74 425.09 418.00 424.29 418.26 423.49 C418.51 422.70 418.78 421.90 419.04 421.11 C419.30 420.31 419.57 419.52 419.84 418.72 C420.10 417.93 420.37 417.13 420.65 416.34 C420.92 415.54 421.19 414.75 421.47 413.96 C421.75 413.16 422.03 412.37 422.31 411.58 C422.60 410.79 422.88 410.00 423.17 409.20 C423.46 408.41 423.75 407.62 424.04 406.83 C424.33 406.04 424.63 405.25 424.92 404.46 C425.22 403.67 425.52 402.88 425.83 402.10 C426.13 401.31 426.44 400.52 426.75 399.73 C427.05 398.94 427.37 398.16 427.68 397.37 C428.00 396.58 428.31 395.80 428.64 395.02 C428.96 394.23 429.29 393.45 429.62 392.68 C429.95 391.90 430.29 391.12 430.63 390.35 C430.97 389.58 431.32 388.82 431.68 388.06 C432.04 387.29 432.40 386.54 432.77 385.79 C433.14 385.04 433.52 384.29 433.90 383.55 C434.29 382.82 434.68 382.08 435.09 381.36 C435.49 380.64 435.91 379.92 436.33 379.21 C436.75 378.51 437.19 377.81 437.63 377.12 C438.08 376.43 438.53 375.75 439.00 375.08 C439.47 374.41 439.95 373.75 440.44 373.10 C440.93 372.46 441.44 371.82 441.95 371.19 C442.47 370.57 443.00 369.96 443.55 369.36 C444.10 368.76 444.66 368.18 445.23 367.61 C445.81 367.04 446.40 366.48 447.00 365.94 C447.61 365.39 448.23 364.87 448.87 364.36 C449.51 363.85 450.17 363.35 450.84 362.87 C451.52 362.40 452.21 361.93 452.92 361.49 C453.63 361.05 454.36 360.62 455.10 360.22 C455.84 359.81 456.61 359.42 457.38 359.06 C458.15 358.70 458.94 358.36 459.74 358.05 C460.53 357.73 461.34 357.44 462.15 357.18 C462.97 356.92 463.79 356.69 464.61 356.49 C465.43 356.29 466.26 356.11 467.09 355.98 C467.91 355.84 468.74 355.74 469.57 355.66 C470.39 355.58 471.22 355.54 472.05 355.52 C472.87 355.49 473.70 355.50 474.53 355.52 C475.36 355.55 476.18 355.59 477.01 355.65 C477.84 355.71 478.67 355.78 479.50 355.87 C480.32 355.95 481.15 356.05 481.98 356.15 C482.81 356.25 483.63 356.36 484.46 356.47 C485.29 356.58 486.12 356.69 486.94 356.80 C487.77 356.91 488.60 357.02 489.43 357.14 C490.25 357.25 491.08 357.36 491.91 357.47 C492.74 357.58 493.56 357.69 494.39 357.80 C495.22 357.91 496.04 358.02 496.87 358.13 C497.70 358.24 498.53 358.35 499.35 358.47 C500.18 358.58 501.01 358.69 501.83 358.80 C502.66 358.91 503.49 359.02 504.32 359.13 C505.14 359.24 505.97 359.35 506.80 359.46 C507.62 359.58 508.45 359.69 509.28 359.80 C510.10 359.91 510.93 360.02 511.76 360.13 C512.58 360.24 513.41 360.35 514.24 360.46 C515.06 360.57 515.89 360.68 516.72 360.79 C517.54 360.90 518.37 361.02 519.20 361.13 C520.03 361.24 520.85 361.35 521.68 361.46 C522.51 361.57 523.33 361.68 524.16 361.79 C524.99 361.90 525.81 362.01 526.64 362.12 C527.47 362.23 528.29 362.34 529.12 362.45 C529.94 362.56 530.77 362.67 531.60 362.78 C532.42 362.89 533.25 363.00 534.08 363.11 C534.90 363.22 535.73 363.33 536.56 363.43 C537.38 363.54 538.21 363.65 539.04 363.76 C539.86 363.87 540.69 363.98 541.52 364.09 C542.34 364.20 543.17 364.31 544.00 364.41 C544.82 364.52 545.65 364.63 546.48 364.74 C547.30 364.85 548.13 364.95 548.96 365.06 C549.78 365.17 550.61 365.28 551.44 365.38 C552.26 365.49 553.09 365.60 553.92 365.71 C554.74 365.81 555.57 365.92 556.40 366.03 C557.22 366.13 558.05 366.24 558.88 366.34 C559.70 366.45 560.53 366.56 561.36 366.66 C562.18 366.77 563.01 366.87 563.84 366.98 C564.66 367.08 565.49 367.19 566.32 367.29 C567.14 367.40 567.97 367.50 568.80 367.61 C569.62 367.71 570.45 367.82 571.28 367.92 C572.11 368.02 572.93 368.13 573.76 368.23 C574.59 368.33 575.41 368.44 576.24 368.54 C577.07 368.64 577.89 368.74 578.72 368.85 C579.55 368.95 580.38 369.05 581.20 369.15 C582.03 369.25 582.86 369.35 583.68 369.45 C584.51 369.56 585.34 369.66 586.17 369.76 C586.99 369.86 587.82 369.96 588.65 370.06 C589.48 370.16 590.30 370.26 591.13 370.35 C591.96 370.45 592.79 370.55 593.61 370.65 C594.44 370.75 595.27 370.85 596.10 370.94 C596.92 371.04 597.75 371.14 598.58 371.24 C599.41 371.33 600.23 371.43 601.06 371.53 C601.89 371.62 602.72 371.72 603.55 371.81 C604.37 371.91 605.20 372.00 606.03 372.10 C606.86 372.19 607.69 372.29 608.51 372.38 C609.34 372.48 610.17 372.57 611.00 372.66 C611.83 372.76 612.65 372.85 613.48 372.94 C614.31 373.04 615.14 373.13 615.97 373.22 C616.80 373.31 617.62 373.41 618.45 373.50 C619.28 373.59 620.11 373.68 620.94 373.77 C621.77 373.86 622.60 373.95 623.42 374.04 C624.25 374.13 625.08 374.22 625.91 374.31 C626.74 374.40 627.57 374.49 628.40 374.58 C629.23 374.67 630.05 374.76 630.88 374.85 C631.71 374.94 632.54 375.03 633.37 375.12 C634.20 375.21 635.03 375.30 635.86 375.38 C636.68 375.47 637.51 375.56 638.34 375.65 C639.17 375.74 640.00 375.82 640.83 375.91 C641.66 376.00 642.49 376.08 643.32 376.17 C644.15 376.26 644.97 376.35 645.80 376.43 C646.63 376.52 647.46 376.61 648.29 376.69 C649.12 376.78 649.95 376.86 650.78 376.95 C651.61 377.04 652.44 377.12 653.27 377.21 C654.10 377.29 654.93 377.38 655.75 377.46 C656.58 377.55 657.41 377.64 658.24 377.72 C659.07 377.81 659.90 377.89 660.73 377.98 C661.56 378.06 662.39 378.15 663.22 378.23 C664.05 378.32 664.88 378.40 665.71 378.48 C666.54 378.57 667.37 378.65 668.19 378.74 C669.02 378.82 669.85 378.91 670.68 378.99 C671.51 379.08 672.34 379.16 673.17 379.24 C674.00 379.33 674.83 379.41 675.66 379.50 C676.49 379.58 677.32 379.66 678.15 379.75 C678.98 379.83 679.81 379.92 680.64 380.00 C681.47 380.08 682.30 380.17 683.13 380.25 C683.95 380.34 684.78 380.42 685.61 380.50 C686.44 380.59 687.27 380.67 688.10 380.76 C688.93 380.84 689.76 380.92 690.59 381.01 C691.42 381.09 692.25 381.18 693.08 381.26 C693.91 381.34 694.74 381.43 695.57 381.51 C696.40 381.60 697.23 381.68 698.06 381.77 C698.89 381.85 699.72 381.93 700.54 382.02 C701.37 382.10 702.20 382.19 703.03 382.27 C703.86 382.36 704.69 382.44 705.52 382.53 C706.35 382.61 707.18 382.69 708.01 382.78 C708.84 382.86 709.67 382.95 710.50 383.03 C711.33 383.12 712.16 383.20 712.99 383.29 C713.82 383.37 714.65 383.46 715.47 383.55 C716.30 383.63 717.13 383.72 717.96 383.80 C718.79 383.89 719.62 383.97 720.45 384.06 C721.28 384.15 722.11 384.23 722.94 384.32 C723.77 384.41 724.60 384.49 725.43 384.58 C726.26 384.67 727.08 384.75 727.91 384.84 C728.74 384.93 729.57 385.01 730.40 385.10 C731.23 385.19 732.06 385.28 732.89 385.36 C733.72 385.45 734.55 385.54 735.38 385.63 C736.20 385.72 737.03 385.80 737.86 385.89 C738.69 385.98 739.52 386.07 740.35 386.16 C741.18 386.25 742.01 386.34 742.84 386.43 C743.66 386.52 744.49 386.61 745.32 386.70 C746.15 386.79 746.98 386.88 747.81 386.97 C748.64 387.06 749.47 387.15 750.29 387.24 C751.12 387.33 751.95 387.42 752.78 387.52 C753.61 387.61 754.44 387.70 755.27 387.79 C756.09 387.89 756.92 387.98 757.75 388.07 C758.58 388.16 759.41 388.26 760.24 388.35 C761.06 388.44 761.89 388.54 762.72 388.63 C763.55 388.73 764.38 388.82 765.21 388.92 C766.03 389.01 766.86 389.11 767.69 389.20 C768.52 389.30 769.35 389.39 770.17 389.49 C771.00 389.59 771.83 389.68 772.66 389.78 C773.49 389.88 774.31 389.97 775.14 390.07 C775.97 390.17 776.80 390.27 777.63 390.37 C778.45 390.47 779.28 390.57 780.11 390.66 C780.94 390.76 781.76 390.86 782.59 390.96 C783.42 391.06 784.25 391.17 785.07 391.27 C785.90 391.37 786.73 391.47 787.56 391.57 C788.38 391.67 789.21 391.78 790.04 391.88 C790.86 391.98 791.69 392.08 792.52 392.19 C793.35 392.29 794.59 392.45 795.00 392.50" fill="none" stroke="#000000" stroke-width="6.00" stroke-linejoin="round" stroke-linecap="butt" clip-path="url(#ca)"/>
<path d="M155 374.3 L441 374.3" fill="none" stroke="#ff00ff" stroke-width="10.60" stroke-linejoin="round" stroke-linecap="butt"/>
<path d="M166 509 L395 509" fill="none" stroke="#ffa500" stroke-width="6.00" stroke-linejoin="round" stroke-linecap="butt"/>
</g>
<g id="panel-b-curves">
<path d="M799.99 147.00 C800.84 147.01 803.39 147.01 805.09 147.04 C806.78 147.06 808.47 147.10 810.16 147.15 C811.86 147.21 813.54 147.27 815.23 147.35 C816.91 147.43 818.60 147.53 820.28 147.63 C821.96 147.74 823.63 147.86 825.31 147.99 C826.98 148.12 828.65 148.27 830.32 148.43 C831.99 148.59 833.66 148.76 835.32 148.95 C836.98 149.14 838.64 149.33 840.30 149.55 C841.96 149.76 843.61 149.98 845.26 150.22 C846.91 150.46 848.56 150.71 850.20 150.98 C851.85 151.24 853.49 151.52 855.13 151.81 C856.77 152.10 858.40 152.40 860.03 152.72 C861.66 153.03 863.29 153.36 864.92 153.70 C866.54 154.04 868.16 154.40 869.78 154.76 C871.40 155.13 873.01 155.51 874.62 155.90 C876.24 156.29 877.84 156.70 879.45 157.11 C881.05 157.53 882.65 157.96 884.25 158.40 C885.84 158.84 887.44 159.29 889.02 159.76 C890.61 160.22 892.20 160.70 893.78 161.19 C895.36 161.68 896.94 162.18 898.51 162.70 C900.09 163.21 901.66 163.74 903.22 164.28 C904.79 164.81 906.35 165.36 907.91 165.93 C909.46 166.49 911.02 167.06 912.57 167.65 C914.11 168.23 915.66 168.83 917.20 169.44 C918.74 170.05 920.28 170.67 921.81 171.30 C923.34 171.94 924.87 172.58 926.39 173.24 C927.92 173.89 929.44 174.56 930.95 175.24 C932.47 175.92 933.98 176.61 935.48 177.31 C936.99 178.01 938.49 178.73 939.99 179.45 C941.48 180.18 942.98 180.91 944.46 181.66 C945.95 182.41 947.43 183.17 948.91 183.93 C950.39 184.70 951.86 185.49 953.33 186.28 C954.80 187.07 956.26 187.87 957.72 188.68 C959.19 189.49 960.64 190.31 962.09 191.14 C963.55 191.96 965.00 192.80 966.44 193.65 C967.89 194.49 969.33 195.35 970.77 196.21 C972.21 197.07 973.64 197.93 975.08 198.81 C976.51 199.68 977.94 200.56 979.37 201.45 C980.80 202.33 982.22 203.23 983.65 204.12 C985.07 205.02 986.49 205.92 987.91 206.83 C989.33 207.74 990.74 208.65 992.16 209.56 C993.58 210.47 994.99 211.39 996.40 212.31 C997.82 213.23 999.23 214.15 1000.64 215.08 C1002.05 216.00 1003.46 216.93 1004.87 217.86 C1006.28 218.79 1007.68 219.72 1009.09 220.65 C1010.50 221.58 1011.91 222.51 1013.32 223.44 C1014.72 224.37 1016.13 225.30 1017.54 226.22 C1018.95 227.15 1020.36 228.08 1021.76 229.01 C1023.17 229.93 1024.58 230.86 1025.99 231.78 C1027.40 232.70 1028.81 233.62 1030.23 234.54 C1031.64 235.45 1033.05 236.36 1034.47 237.27 C1035.88 238.18 1037.30 239.09 1038.72 239.99 C1040.14 240.89 1041.56 241.78 1042.98 242.67 C1044.40 243.56 1045.83 244.44 1047.25 245.32 C1048.68 246.20 1050.11 247.07 1051.54 247.94 C1052.97 248.80 1054.41 249.66 1055.85 250.51 C1057.28 251.36 1058.73 252.20 1060.17 253.03 C1061.61 253.87 1063.06 254.69 1064.51 255.51 C1065.97 256.33 1067.42 257.13 1068.88 257.93 C1070.34 258.73 1071.80 259.51 1073.27 260.29 C1074.74 261.07 1076.21 261.83 1077.68 262.59 C1079.16 263.34 1080.64 264.09 1082.12 264.83 C1083.60 265.56 1085.09 266.29 1086.58 267.01 C1088.07 267.73 1089.57 268.44 1091.06 269.13 C1092.56 269.83 1094.06 270.52 1095.57 271.20 C1097.07 271.89 1098.58 272.56 1100.09 273.22 C1101.61 273.88 1103.12 274.54 1104.64 275.18 C1106.16 275.83 1107.68 276.47 1109.21 277.09 C1110.74 277.72 1112.27 278.34 1113.80 278.96 C1115.33 279.57 1116.87 280.17 1118.41 280.77 C1119.95 281.37 1121.49 281.95 1123.03 282.53 C1124.58 283.11 1126.13 283.69 1127.68 284.25 C1129.23 284.82 1130.78 285.38 1132.34 285.93 C1133.90 286.48 1135.46 287.02 1137.02 287.56 C1138.59 288.09 1140.15 288.62 1141.72 289.15 C1143.29 289.67 1144.86 290.18 1146.43 290.69 C1148.01 291.20 1149.58 291.71 1151.16 292.20 C1152.74 292.70 1154.32 293.19 1155.91 293.67 C1157.49 294.15 1159.08 294.63 1160.67 295.10 C1162.26 295.58 1163.85 296.04 1165.44 296.50 C1167.03 296.96 1168.63 297.42 1170.23 297.86 C1171.83 298.31 1173.43 298.76 1175.03 299.19 C1176.63 299.63 1178.23 300.06 1179.84 300.49 C1181.45 300.92 1183.06 301.34 1184.67 301.76 C1186.28 302.18 1187.89 302.59 1189.50 303.00 C1191.12 303.41 1192.73 303.81 1194.35 304.21 C1195.97 304.61 1197.59 305.00 1199.21 305.39 C1200.83 305.79 1202.45 306.17 1204.08 306.55 C1205.70 306.94 1207.33 307.31 1208.96 307.69 C1210.58 308.06 1212.21 308.44 1213.84 308.80 C1215.47 309.17 1217.10 309.53 1218.74 309.90 C1220.37 310.26 1222.01 310.61 1223.64 310.97 C1225.28 311.32 1226.91 311.67 1228.55 312.02 C1230.19 312.37 1231.83 312.72 1233.47 313.06 C1235.11 313.40 1236.75 313.74 1238.39 314.08 C1240.03 314.42 1241.68 314.75 1243.32 315.09 C1244.97 315.42 1246.61 315.75 1248.26 316.08 C1249.90 316.41 1251.55 316.74 1253.20 317.06 C1254.84 317.39 1256.49 317.71 1258.14 318.03 C1259.79 318.35 1261.44 318.67 1263.09 318.99 C1264.74 319.31 1266.39 319.63 1268.04 319.95 C1269.69 320.26 1271.34 320.58 1272.99 320.89 C1274.64 321.21 1276.30 321.52 1277.95 321.84 C1279.60 322.15 1281.25 322.46 1282.90 322.77 C1284.56 323.09 1286.21 323.40 1287.86 323.71 C1289.52 324.02 1291.17 324.33 1292.82 324.64 C1294.47 324.95 1296.13 325.26 1297.78 325.58 C1299.43 325.89 1301.09 326.20 1302.74 326.51 C1304.39 326.82 1306.04 327.13 1307.70 327.45 C1309.35 327.76 1311.00 328.07 1312.65 328.39 C1314.30 328.70 1315.95 329.02 1317.60 329.34 C1319.26 329.65 1320.91 329.97 1322.56 330.29 C1324.21 330.61 1325.85 330.93 1327.50 331.25 C1329.15 331.57 1330.80 331.89 1332.45 332.22 C1334.09 332.55 1335.74 332.87 1337.39 333.20 C1339.03 333.53 1340.68 333.86 1342.32 334.19 C1343.97 334.53 1345.61 334.86 1347.25 335.20 C1348.89 335.54 1350.54 335.88 1352.18 336.22 C1353.82 336.56 1355.46 336.91 1357.09 337.25 C1358.73 337.60 1360.37 337.95 1362.01 338.31 C1363.64 338.66 1365.28 339.02 1366.91 339.38 C1368.54 339.74 1370.18 340.10 1371.81 340.47 C1373.44 340.84 1375.07 341.21 1376.69 341.58 C1378.32 341.96 1379.95 342.33 1381.57 342.72 C1383.20 343.10 1384.82 343.48 1386.44 343.88 C1388.06 344.27 1389.68 344.66 1391.30 345.06 C1392.92 345.46 1394.53 345.86 1396.15 346.27 C1397.76 346.68 1399.38 347.09 1400.99 347.51 C1402.60 347.92 1404.21 348.34 1405.81 348.77 C1407.42 349.20 1409.02 349.63 1410.63 350.07 C1412.23 350.50 1413.83 350.95 1415.43 351.40 C1417.03 351.84 1418.62 352.30 1420.22 352.76 C1421.81 353.22 1423.40 353.68 1424.99 354.15 C1426.58 354.62 1428.17 355.10 1429.75 355.58 C1431.34 356.07 1432.92 356.55 1434.50 357.05 C1436.08 357.55 1437.66 358.05 1439.23 358.56 C1440.80 359.06 1442.38 359.58 1443.94 360.10 C1445.51 360.62 1447.08 361.15 1448.64 361.69 C1450.21 362.22 1451.77 362.76 1453.32 363.31 C1454.88 363.86 1457.21 364.71 1457.99 364.99" fill="none" stroke="#008b00" stroke-width="6.00" stroke-linejoin="round" stroke-linecap="butt" stroke-dasharray="31.1 16.1 8 16.1" stroke-dashoffset="45.00" clip-path="url(#cb)"/>
<path d="M848.00 100.00 C848.14 100.83 848.55 103.34 848.86 105.01 C849.16 106.67 849.47 108.32 849.81 109.97 C850.14 111.63 850.48 113.27 850.84 114.91 C851.20 116.55 851.57 118.19 851.95 119.82 C852.34 121.45 852.73 123.08 853.14 124.70 C853.54 126.32 853.96 127.94 854.38 129.56 C854.81 131.17 855.24 132.79 855.69 134.39 C856.13 136.00 856.58 137.61 857.04 139.22 C857.49 140.82 857.96 142.42 858.43 144.02 C858.90 145.62 859.37 147.22 859.85 148.82 C860.33 150.42 860.82 152.01 861.31 153.61 C861.79 155.21 862.28 156.80 862.78 158.40 C863.27 159.99 863.76 161.59 864.26 163.18 C864.75 164.78 865.25 166.37 865.74 167.97 C866.24 169.57 866.74 171.16 867.23 172.76 C867.72 174.36 868.21 175.96 868.70 177.57 C869.19 179.17 869.68 180.77 870.16 182.38 C870.64 183.99 871.12 185.60 871.59 187.21 C872.06 188.82 872.53 190.44 872.99 192.06 C873.45 193.68 873.90 195.30 874.35 196.93 C874.79 198.55 875.23 200.19 875.67 201.82 C876.10 203.45 876.53 205.09 876.96 206.73 C877.39 208.36 877.81 210.00 878.24 211.64 C878.67 213.28 879.10 214.92 879.53 216.56 C879.96 218.19 880.39 219.83 880.83 221.47 C881.27 223.10 881.72 224.73 882.17 226.36 C882.62 227.99 883.09 229.62 883.56 231.24 C884.03 232.86 884.52 234.47 885.01 236.08 C885.51 237.69 886.02 239.29 886.55 240.89 C887.08 242.49 887.62 244.08 888.18 245.66 C888.74 247.24 889.32 248.81 889.92 250.37 C890.52 251.93 891.13 253.48 891.77 255.02 C892.41 256.55 893.08 258.08 893.76 259.59 C894.45 261.10 895.16 262.60 895.89 264.08 C896.63 265.56 897.39 267.02 898.18 268.47 C898.97 269.92 899.78 271.35 900.63 272.75 C901.47 274.16 902.35 275.55 903.25 276.92 C904.16 278.29 905.10 279.64 906.07 280.96 C907.04 282.28 908.04 283.59 909.08 284.86 C910.12 286.14 911.19 287.39 912.29 288.62 C913.39 289.86 914.52 291.07 915.68 292.26 C916.84 293.45 918.02 294.62 919.23 295.77 C920.44 296.92 921.67 298.06 922.92 299.18 C924.17 300.29 925.45 301.40 926.73 302.48 C928.02 303.57 929.33 304.64 930.65 305.70 C931.97 306.76 933.31 307.81 934.66 308.84 C936.00 309.88 937.36 310.90 938.73 311.91 C940.09 312.93 941.47 313.93 942.85 314.93 C944.22 315.93 945.61 316.92 947.00 317.90 C948.39 318.88 949.78 319.85 951.18 320.81 C952.58 321.77 953.98 322.73 955.39 323.67 C956.80 324.61 958.21 325.54 959.63 326.46 C961.05 327.38 962.48 328.29 963.91 329.18 C965.34 330.07 966.78 330.96 968.22 331.82 C969.67 332.69 971.12 333.54 972.57 334.38 C974.03 335.21 975.50 336.03 976.97 336.84 C978.44 337.64 979.92 338.43 981.40 339.20 C982.89 339.96 984.38 340.72 985.89 341.45 C987.39 342.18 988.90 342.89 990.41 343.59 C991.93 344.28 993.45 344.96 994.98 345.62 C996.51 346.29 998.05 346.93 999.59 347.56 C1001.13 348.19 1002.69 348.80 1004.24 349.39 C1005.80 349.99 1007.36 350.57 1008.93 351.14 C1010.49 351.70 1012.07 352.25 1013.65 352.79 C1015.23 353.33 1016.81 353.85 1018.40 354.36 C1019.99 354.87 1021.58 355.37 1023.18 355.85 C1024.78 356.34 1026.38 356.81 1027.99 357.27 C1029.60 357.73 1031.21 358.18 1032.82 358.61 C1034.44 359.05 1036.06 359.48 1037.68 359.90 C1039.30 360.31 1040.93 360.72 1042.56 361.12 C1044.19 361.51 1045.82 361.90 1047.45 362.28 C1049.09 362.66 1050.72 363.03 1052.36 363.39 C1054.00 363.75 1055.65 364.10 1057.29 364.45 C1058.93 364.80 1060.58 365.14 1062.23 365.47 C1063.87 365.81 1065.52 366.13 1067.17 366.45 C1068.82 366.77 1070.48 367.09 1072.13 367.40 C1073.78 367.71 1075.43 368.02 1077.09 368.32 C1078.74 368.62 1080.39 368.92 1082.05 369.21 C1083.70 369.50 1085.36 369.79 1087.01 370.08 C1088.67 370.36 1090.32 370.64 1091.98 370.92 C1093.63 371.20 1095.29 371.47 1096.95 371.74 C1098.60 372.01 1100.26 372.27 1101.92 372.54 C1103.58 372.80 1105.23 373.06 1106.89 373.31 C1108.55 373.56 1110.21 373.81 1111.87 374.06 C1113.53 374.31 1115.19 374.55 1116.85 374.79 C1118.51 375.03 1120.17 375.26 1121.83 375.50 C1123.49 375.73 1125.15 375.96 1126.81 376.18 C1128.47 376.41 1130.13 376.63 1131.80 376.85 C1133.46 377.07 1135.12 377.28 1136.78 377.50 C1138.45 377.71 1140.11 377.92 1141.77 378.12 C1143.44 378.33 1145.10 378.53 1146.76 378.73 C1148.43 378.93 1150.09 379.12 1151.76 379.32 C1153.42 379.51 1155.09 379.70 1156.75 379.89 C1158.42 380.07 1160.08 380.26 1161.75 380.44 C1163.42 380.62 1165.08 380.80 1166.75 380.97 C1168.41 381.15 1170.08 381.32 1171.75 381.49 C1173.42 381.66 1175.08 381.83 1176.75 381.99 C1178.42 382.16 1180.09 382.32 1181.75 382.48 C1183.42 382.64 1185.09 382.79 1186.76 382.95 C1188.43 383.10 1190.10 383.25 1191.77 383.40 C1193.43 383.55 1195.10 383.70 1196.77 383.84 C1198.44 383.99 1200.11 384.13 1201.78 384.27 C1203.45 384.41 1205.12 384.55 1206.79 384.68 C1208.46 384.82 1210.14 384.95 1211.81 385.08 C1213.48 385.21 1215.15 385.34 1216.82 385.47 C1218.49 385.60 1220.16 385.72 1221.84 385.84 C1223.51 385.97 1225.18 386.09 1226.85 386.21 C1228.52 386.32 1230.20 386.44 1231.87 386.56 C1233.54 386.67 1235.21 386.79 1236.89 386.90 C1238.56 387.01 1240.23 387.12 1241.91 387.23 C1243.58 387.34 1245.25 387.44 1246.93 387.55 C1248.60 387.65 1250.27 387.75 1251.95 387.86 C1253.62 387.96 1255.30 388.06 1256.97 388.16 C1258.64 388.26 1260.32 388.35 1261.99 388.45 C1263.67 388.55 1265.34 388.64 1267.02 388.73 C1268.69 388.83 1270.37 388.92 1272.04 389.01 C1273.72 389.10 1275.39 389.19 1277.07 389.28 C1278.74 389.37 1280.42 389.46 1282.09 389.54 C1283.77 389.63 1285.44 389.71 1287.12 389.80 C1288.79 389.88 1290.47 389.97 1292.14 390.05 C1293.82 390.13 1295.50 390.21 1297.17 390.29 C1298.85 390.37 1300.52 390.45 1302.20 390.53 C1303.88 390.61 1305.55 390.69 1307.23 390.77 C1308.90 390.85 1310.58 390.92 1312.26 391.00 C1313.93 391.08 1315.61 391.15 1317.28 391.23 C1318.96 391.30 1320.64 391.38 1322.31 391.45 C1323.99 391.53 1325.67 391.60 1327.34 391.67 C1329.02 391.75 1330.70 391.82 1332.37 391.89 C1334.05 391.97 1335.72 392.04 1337.40 392.11 C1339.08 392.18 1340.75 392.26 1342.43 392.33 C1344.11 392.40 1345.78 392.47 1347.46 392.54 C1349.14 392.62 1350.81 392.69 1352.49 392.76 C1354.17 392.83 1355.84 392.90 1357.52 392.98 C1359.19 393.05 1360.87 393.12 1362.55 393.19 C1364.22 393.26 1365.90 393.34 1367.58 393.41 C1369.25 393.48 1370.93 393.55 1372.60 393.63 C1374.28 393.70 1375.96 393.77 1377.63 393.85 C1379.31 393.92 1380.98 394.00 1382.66 394.07 C1384.34 394.15 1386.01 394.22 1387.69 394.30 C1389.36 394.37 1391.04 394.45 1392.71 394.53 C1394.39 394.60 1396.07 394.68 1397.74 394.76 C1399.42 394.84 1401.09 394.91 1402.77 394.99 C1404.44 395.07 1406.12 395.15 1407.79 395.24 C1409.47 395.32 1411.14 395.40 1412.82 395.48 C1414.49 395.57 1416.17 395.65 1417.84 395.74 C1419.51 395.82 1421.19 395.91 1422.86 395.99 C1424.54 396.08 1426.21 396.17 1427.89 396.26 C1429.56 396.35 1431.23 396.44 1432.91 396.53 C1434.58 396.62 1436.25 396.71 1437.93 396.81 C1439.60 396.90 1441.27 397.00 1442.95 397.10 C1444.62 397.19 1446.29 397.29 1447.97 397.39 C1449.64 397.49 1451.31 397.59 1452.98 397.70 C1454.65 397.80 1457.16 397.96 1458.00 398.01" fill="none" stroke="#0000ff" stroke-width="5.80" stroke-linejoin="round" stroke-linecap="butt" stroke-dasharray="28.85 18.88" stroke-dashoffset="-4.50" clip-path="url(#cb)"/>
<path d="M803.40 1060.20 C804.25 1060.15 806.80 1060.09 808.47 1059.91 C810.13 1059.72 811.78 1059.42 813.41 1059.08 C815.05 1058.73 816.66 1058.30 818.27 1057.83 C819.88 1057.37 821.47 1056.83 823.06 1056.28 C824.66 1055.73 826.24 1055.14 827.82 1054.55 C829.40 1053.96 830.97 1053.34 832.55 1052.74 C834.13 1052.15 835.71 1051.54 837.29 1050.98 C838.88 1050.42 840.46 1049.87 842.06 1049.39 C843.66 1048.90 845.27 1048.45 846.89 1048.07 C848.51 1047.69 850.14 1047.36 851.78 1047.09 C853.42 1046.82 855.07 1046.61 856.72 1046.44 C858.38 1046.28 860.04 1046.16 861.71 1046.09 C863.37 1046.02 865.05 1045.99 866.72 1046.01 C868.40 1046.02 870.08 1046.08 871.76 1046.17 C873.44 1046.26 875.12 1046.40 876.80 1046.56 C878.48 1046.72 880.16 1046.91 881.83 1047.13 C883.51 1047.35 885.18 1047.60 886.85 1047.87 C888.52 1048.14 890.18 1048.44 891.84 1048.76 C893.49 1049.07 895.14 1049.40 896.78 1049.75 C898.42 1050.11 900.05 1050.47 901.66 1050.88 C903.27 1051.30 904.87 1051.74 906.45 1052.25 C908.02 1052.77 909.57 1053.34 911.10 1053.96 C912.64 1054.59 914.14 1055.29 915.65 1056.00 C917.15 1056.72 918.63 1057.50 920.13 1058.25 C921.64 1059.00 923.12 1059.80 924.66 1060.51 C926.19 1061.22 927.75 1061.94 929.33 1062.52 C930.92 1063.11 932.55 1063.66 934.18 1064.04 C935.81 1064.41 937.47 1064.71 939.13 1064.79 C940.79 1064.87 942.47 1064.79 944.11 1064.52 C945.75 1064.25 947.42 1063.78 948.97 1063.17 C950.52 1062.56 952.04 1061.77 953.43 1060.87 C954.81 1059.98 956.08 1058.93 957.26 1057.80 C958.45 1056.67 959.51 1055.41 960.52 1054.10 C961.52 1052.79 962.43 1051.38 963.29 1049.94 C964.16 1048.50 964.94 1046.98 965.70 1045.46 C966.47 1043.95 967.17 1042.38 967.87 1040.83 C968.56 1039.28 969.22 1037.72 969.86 1036.16 C970.50 1034.60 971.12 1033.03 971.72 1031.46 C972.32 1029.89 972.89 1028.32 973.45 1026.74 C974.01 1025.16 974.55 1023.58 975.08 1022.00 C975.61 1020.41 976.11 1018.82 976.61 1017.23 C977.11 1015.64 977.60 1014.05 978.07 1012.45 C978.55 1010.86 979.02 1009.26 979.48 1007.66 C979.94 1006.05 980.39 1004.45 980.84 1002.85 C981.28 1001.24 981.73 999.63 982.17 998.02 C982.61 996.42 983.05 994.80 983.49 993.19 C983.93 991.58 984.37 989.97 984.80 988.35 C985.24 986.74 985.67 985.12 986.10 983.50 C986.53 981.89 986.96 980.27 987.38 978.65 C987.81 977.03 988.23 975.40 988.65 973.78 C989.07 972.16 989.49 970.54 989.90 968.91 C990.31 967.28 990.72 965.66 991.13 964.03 C991.53 962.40 991.94 960.78 992.33 959.15 C992.73 957.52 993.13 955.89 993.51 954.25 C993.90 952.62 994.29 950.99 994.67 949.36 C995.05 947.72 995.42 946.09 995.79 944.46 C996.16 942.82 996.53 941.19 996.89 939.55 C997.25 937.91 997.60 936.28 997.95 934.64 C998.30 933.00 998.65 931.36 998.99 929.72 C999.34 928.08 999.67 926.44 1000.01 924.80 C1000.34 923.16 1000.67 921.52 1001.00 919.88 C1001.32 918.24 1001.65 916.60 1001.97 914.95 C1002.29 913.31 1002.60 911.67 1002.91 910.03 C1003.23 908.38 1003.54 906.74 1003.84 905.09 C1004.15 903.45 1004.46 901.80 1004.76 900.16 C1005.06 898.51 1005.36 896.87 1005.66 895.22 C1005.95 893.58 1006.25 891.93 1006.54 890.28 C1006.83 888.64 1007.12 886.99 1007.41 885.34 C1007.70 883.70 1007.99 882.05 1008.28 880.40 C1008.56 878.75 1008.85 877.11 1009.13 875.46 C1009.42 873.81 1009.70 872.16 1009.98 870.52 C1010.26 868.87 1010.54 867.22 1010.83 865.57 C1011.11 863.92 1011.39 862.27 1011.67 860.63 C1011.95 858.98 1012.23 857.33 1012.51 855.68 C1012.79 854.03 1013.07 852.39 1013.35 850.74 C1013.63 849.09 1013.91 847.44 1014.19 845.79 C1014.47 844.15 1014.75 842.50 1015.03 840.85 C1015.32 839.20 1015.60 837.55 1015.88 835.91 C1016.17 834.26 1016.46 832.61 1016.74 830.97 C1017.03 829.32 1017.31 827.67 1017.60 826.03 C1017.89 824.38 1018.18 822.73 1018.47 821.09 C1018.76 819.44 1019.05 817.79 1019.34 816.15 C1019.63 814.50 1019.92 812.85 1020.21 811.21 C1020.50 809.56 1020.80 807.92 1021.09 806.27 C1021.38 804.62 1021.68 802.98 1021.97 801.33 C1022.26 799.69 1022.56 798.04 1022.85 796.39 C1023.15 794.75 1023.44 793.10 1023.74 791.46 C1024.03 789.81 1024.33 788.16 1024.62 786.52 C1024.92 784.87 1025.21 783.23 1025.51 781.58 C1025.80 779.93 1026.10 778.29 1026.40 776.64 C1026.69 775.00 1026.99 773.35 1027.28 771.70 C1027.58 770.06 1027.87 768.41 1028.17 766.76 C1028.47 765.12 1028.76 763.47 1029.06 761.82 C1029.35 760.18 1029.65 758.53 1029.94 756.88 C1030.24 755.24 1030.53 753.59 1030.82 751.94 C1031.12 750.29 1031.41 748.65 1031.71 747.00 C1032.00 745.35 1032.29 743.70 1032.58 742.06 C1032.88 740.41 1033.17 738.76 1033.46 737.11 C1033.75 735.46 1034.04 733.81 1034.33 732.16 C1034.62 730.51 1034.91 728.87 1035.20 727.22 C1035.49 725.57 1035.78 723.92 1036.07 722.27 C1036.35 720.62 1036.64 718.97 1036.93 717.32 C1037.21 715.67 1037.50 714.01 1037.78 712.36 C1038.07 710.71 1038.35 709.06 1038.63 707.41 C1038.92 705.76 1039.20 704.11 1039.48 702.45 C1039.76 700.80 1040.05 699.15 1040.33 697.50 C1040.61 695.84 1040.89 694.19 1041.17 692.54 C1041.45 690.89 1041.73 689.23 1042.01 687.58 C1042.29 685.93 1042.57 684.28 1042.85 682.62 C1043.13 680.97 1043.41 679.32 1043.69 677.66 C1043.97 676.01 1044.25 674.36 1044.53 672.71 C1044.81 671.05 1045.09 669.40 1045.37 667.75 C1045.65 666.09 1045.93 664.44 1046.21 662.79 C1046.49 661.14 1046.77 659.48 1047.05 657.83 C1047.34 656.18 1047.62 654.52 1047.90 652.87 C1048.18 651.22 1048.46 649.57 1048.75 647.92 C1049.03 646.26 1049.31 644.61 1049.60 642.96 C1049.88 641.31 1050.17 639.66 1050.45 638.00 C1050.74 636.35 1051.03 634.70 1051.31 633.05 C1051.60 631.40 1051.89 629.75 1052.18 628.10 C1052.47 626.45 1052.76 624.80 1053.05 623.15 C1053.34 621.50 1053.63 619.85 1053.93 618.20 C1054.22 616.55 1054.52 614.90 1054.81 613.26 C1055.11 611.61 1055.40 609.96 1055.70 608.31 C1056.00 606.66 1056.30 605.02 1056.60 603.37 C1056.90 601.72 1057.21 600.08 1057.51 598.43 C1057.82 596.79 1058.12 595.14 1058.43 593.50 C1058.74 591.85 1059.04 590.21 1059.36 588.56 C1059.67 586.92 1059.98 585.28 1060.29 583.64 C1060.61 581.99 1060.92 580.35 1061.24 578.71 C1061.56 577.07 1061.88 575.43 1062.20 573.79 C1062.52 572.15 1062.85 570.51 1063.17 568.87 C1063.50 567.23 1063.83 565.59 1064.16 563.95 C1064.49 562.32 1064.82 560.68 1065.15 559.04 C1065.49 557.41 1065.83 555.77 1066.17 554.14 C1066.51 552.50 1066.85 550.87 1067.19 549.24 C1067.54 547.60 1067.88 545.97 1068.23 544.34 C1068.58 542.71 1068.93 541.08 1069.29 539.45 C1069.64 537.82 1070.00 536.19 1070.36 534.56 C1070.72 532.93 1071.08 531.31 1071.45 529.68 C1071.81 528.06 1072.18 526.43 1072.55 524.81 C1072.93 523.18 1073.30 521.56 1073.68 519.94 C1074.06 518.31 1074.44 516.69 1074.83 515.07 C1075.21 513.45 1075.60 511.83 1076.00 510.22 C1076.40 508.60 1076.80 506.98 1077.21 505.37 C1077.62 503.75 1078.03 502.14 1078.45 500.52 C1078.88 498.91 1079.30 497.30 1079.74 495.69 C1080.18 494.08 1080.62 492.47 1081.07 490.86 C1081.53 489.25 1081.99 487.65 1082.46 486.04 C1082.93 484.44 1083.41 482.84 1083.90 481.24 C1084.39 479.64 1084.89 478.04 1085.40 476.44 C1085.91 474.84 1086.43 473.24 1086.97 471.65 C1087.50 470.05 1088.04 468.46 1088.60 466.87 C1089.16 465.28 1089.73 463.69 1090.31 462.10 C1090.89 460.52 1091.49 458.93 1092.10 457.35 C1092.71 455.76 1093.33 454.18 1093.97 452.60 C1094.62 451.03 1095.27 449.45 1095.95 447.89 C1096.63 446.33 1097.33 444.78 1098.05 443.25 C1098.78 441.71 1099.53 440.19 1100.32 438.70 C1101.10 437.21 1101.91 435.73 1102.77 434.29 C1103.62 432.85 1104.50 431.44 1105.43 430.06 C1106.36 428.68 1107.33 427.34 1108.34 426.04 C1109.36 424.74 1110.42 423.47 1111.53 422.26 C1112.64 421.04 1113.80 419.87 1115.02 418.76 C1116.24 417.65 1117.51 416.58 1118.84 415.58 C1120.16 414.59 1121.54 413.65 1122.96 412.80 C1124.38 411.96 1125.86 411.17 1127.36 410.50 C1128.87 409.83 1130.43 409.25 1132.01 408.76 C1133.60 408.28 1135.23 407.93 1136.87 407.61 C1138.51 407.30 1140.18 407.09 1141.85 406.89 C1143.53 406.68 1145.22 406.54 1146.90 406.38 C1148.58 406.23 1150.26 406.08 1151.94 405.94 C1153.62 405.79 1155.29 405.65 1156.97 405.50 C1158.64 405.36 1160.31 405.22 1161.98 405.09 C1163.65 404.96 1165.32 404.82 1166.99 404.70 C1168.66 404.57 1170.33 404.45 1172.00 404.33 C1173.66 404.21 1175.33 404.10 1177.00 403.99 C1178.67 403.88 1180.34 403.77 1182.01 403.67 C1183.68 403.57 1185.34 403.47 1187.01 403.37 C1188.68 403.28 1190.35 403.19 1192.02 403.10 C1193.69 403.02 1195.36 402.94 1197.03 402.86 C1198.70 402.78 1200.36 402.71 1202.03 402.64 C1203.70 402.57 1205.37 402.50 1207.04 402.44 C1208.71 402.38 1210.38 402.32 1212.05 402.26 C1213.72 402.21 1215.39 402.15 1217.06 402.11 C1218.73 402.06 1220.41 402.01 1222.08 401.97 C1223.75 401.93 1225.42 401.89 1227.09 401.85 C1228.76 401.82 1230.43 401.79 1232.10 401.76 C1233.78 401.73 1235.45 401.70 1237.12 401.68 C1238.79 401.65 1240.46 401.63 1242.14 401.61 C1243.81 401.59 1245.48 401.58 1247.15 401.56 C1248.83 401.55 1250.50 401.54 1252.17 401.53 C1253.84 401.52 1255.52 401.51 1257.19 401.50 C1258.86 401.50 1260.53 401.50 1262.21 401.49 C1263.88 401.49 1265.55 401.49 1267.23 401.49 C1268.90 401.50 1270.57 401.50 1272.25 401.50 C1273.92 401.51 1275.60 401.52 1277.27 401.52 C1278.94 401.53 1280.62 401.54 1282.29 401.55 C1283.96 401.56 1285.64 401.57 1287.31 401.59 C1288.99 401.60 1290.66 401.61 1292.34 401.63 C1294.01 401.64 1295.68 401.65 1297.36 401.67 C1299.03 401.69 1300.71 401.70 1302.38 401.72 C1304.06 401.74 1305.73 401.75 1307.40 401.77 C1309.08 401.79 1310.75 401.81 1312.43 401.82 C1314.10 401.84 1315.78 401.86 1317.45 401.88 C1319.13 401.89 1320.80 401.91 1322.48 401.93 C1324.15 401.95 1325.82 401.97 1327.50 401.98 C1329.17 402.00 1330.85 402.02 1332.52 402.03 C1334.20 402.05 1335.87 402.06 1337.55 402.08 C1339.22 402.09 1340.90 402.11 1342.57 402.12 C1344.25 402.13 1345.92 402.14 1347.60 402.16 C1349.27 402.17 1350.94 402.18 1352.62 402.19 C1354.29 402.19 1355.97 402.20 1357.64 402.21 C1359.32 402.21 1360.99 402.22 1362.67 402.22 C1364.34 402.23 1366.01 402.23 1367.69 402.23 C1369.36 402.23 1371.04 402.22 1372.71 402.22 C1374.39 402.22 1376.06 402.21 1377.73 402.20 C1379.41 402.19 1381.08 402.18 1382.76 402.17 C1384.43 402.16 1386.10 402.14 1387.78 402.13 C1389.45 402.11 1391.12 402.09 1392.80 402.07 C1394.47 402.05 1396.14 402.02 1397.82 401.99 C1399.49 401.97 1401.16 401.94 1402.84 401.90 C1404.51 401.87 1406.18 401.83 1407.86 401.79 C1409.53 401.75 1411.20 401.71 1412.87 401.66 C1414.55 401.62 1416.22 401.57 1417.89 401.52 C1419.56 401.46 1421.24 401.41 1422.91 401.35 C1424.58 401.29 1426.25 401.22 1427.92 401.16 C1429.60 401.09 1431.27 401.02 1432.94 400.94 C1434.61 400.87 1436.28 400.79 1437.95 400.71 C1439.63 400.62 1441.30 400.54 1442.97 400.44 C1444.64 400.35 1446.31 400.26 1447.98 400.16 C1449.65 400.05 1451.32 399.95 1452.99 399.84 C1454.66 399.73 1457.16 399.55 1458.00 399.50" fill="none" stroke="#ff0000" stroke-width="6.20" stroke-linejoin="round" stroke-linecap="butt" clip-path="url(#cb)"/>
<path d="M803.40 402.20 L1196.00 402.20" fill="none" stroke="#000000" stroke-width="4.90" stroke-linejoin="round" stroke-linecap="butt" stroke-dasharray="19.5 12.3" stroke-dashoffset="0.00"/>
<path d="M823.00 100.00 C822.99 100.83 822.94 103.34 822.90 105.01 C822.87 106.68 822.85 108.35 822.82 110.02 C822.79 111.69 822.77 113.36 822.75 115.03 C822.72 116.70 822.70 118.37 822.68 120.04 C822.66 121.70 822.65 123.37 822.63 125.04 C822.62 126.71 822.61 128.38 822.59 130.05 C822.58 131.72 822.57 133.39 822.57 135.06 C822.56 136.73 822.55 138.40 822.55 140.07 C822.55 141.73 822.55 143.40 822.55 145.07 C822.55 146.74 822.55 148.41 822.55 150.08 C822.56 151.75 822.56 153.42 822.57 155.08 C822.58 156.75 822.59 158.42 822.60 160.09 C822.61 161.76 822.62 163.43 822.64 165.09 C822.65 166.76 822.67 168.43 822.69 170.10 C822.71 171.77 822.73 173.44 822.75 175.10 C822.78 176.77 822.80 178.44 822.83 180.11 C822.85 181.78 822.88 183.44 822.91 185.11 C822.94 186.78 822.97 188.45 823.01 190.12 C823.04 191.78 823.07 193.45 823.11 195.12 C823.15 196.79 823.19 198.45 823.23 200.12 C823.27 201.79 823.31 203.46 823.36 205.12 C823.40 206.79 823.45 208.46 823.49 210.12 C823.54 211.79 823.59 213.46 823.64 215.13 C823.69 216.79 823.75 218.46 823.80 220.13 C823.86 221.79 823.91 223.46 823.97 225.13 C824.03 226.79 824.09 228.46 824.15 230.13 C824.21 231.79 824.28 233.46 824.34 235.13 C824.41 236.79 824.47 238.46 824.54 240.13 C824.61 241.79 824.68 243.46 824.75 245.13 C824.82 246.79 824.90 248.46 824.97 250.12 C825.05 251.79 825.13 253.46 825.20 255.12 C825.28 256.79 825.36 258.45 825.44 260.12 C825.53 261.79 825.61 263.45 825.70 265.12 C825.78 266.78 825.87 268.45 825.96 270.11 C826.05 271.78 826.14 273.44 826.23 275.11 C826.32 276.78 826.41 278.44 826.51 280.11 C826.60 281.77 826.70 283.44 826.80 285.10 C826.90 286.77 827.00 288.43 827.10 290.10 C827.20 291.76 827.30 293.43 827.41 295.09 C827.51 296.76 827.62 298.42 827.73 300.08 C827.84 301.75 827.95 303.41 828.06 305.08 C828.17 306.74 828.28 308.41 828.40 310.07 C828.51 311.74 828.63 313.40 828.74 315.06 C828.86 316.73 828.98 318.39 829.10 320.06 C829.22 321.72 829.35 323.38 829.47 325.05 C829.59 326.71 829.72 328.37 829.84 330.04 C829.97 331.70 830.10 333.37 830.23 335.03 C830.36 336.69 830.49 338.36 830.62 340.02 C830.76 341.68 830.89 343.35 831.03 345.01 C831.16 346.67 831.30 348.34 831.44 350.00 C831.58 351.66 831.72 353.32 831.86 354.99 C832.00 356.65 832.15 358.31 832.29 359.98 C832.44 361.64 832.58 363.30 832.73 364.96 C832.88 366.63 833.03 368.29 833.18 369.95 C833.33 371.61 833.48 373.27 833.64 374.94 C833.79 376.60 833.95 378.26 834.10 379.92 C834.26 381.58 834.42 383.25 834.58 384.91 C834.74 386.57 834.90 388.23 835.06 389.89 C835.22 391.56 835.38 393.22 835.55 394.88 C835.72 396.54 835.88 398.20 836.05 399.86 C836.22 401.52 836.39 403.18 836.56 404.85 C836.73 406.51 836.90 408.17 837.07 409.83 C837.25 411.49 837.42 413.15 837.60 414.81 C837.78 416.47 837.95 418.13 838.13 419.79 C838.31 421.45 838.49 423.11 838.67 424.77 C838.86 426.43 839.04 428.09 839.22 429.75 C839.41 431.42 839.59 433.08 839.78 434.74 C839.97 436.40 840.16 438.05 840.35 439.71 C840.54 441.37 840.73 443.03 840.92 444.69 C841.11 446.35 841.31 448.01 841.51 449.67 C841.70 451.33 841.90 452.99 842.11 454.65 C842.31 456.30 842.52 457.96 842.73 459.62 C842.95 461.27 843.16 462.93 843.38 464.58 C843.61 466.24 843.83 467.89 844.06 469.54 C844.30 471.19 844.53 472.84 844.78 474.49 C845.02 476.14 845.27 477.79 845.53 479.44 C845.79 481.08 846.06 482.73 846.33 484.37 C846.61 486.01 846.89 487.65 847.18 489.29 C847.47 490.93 847.77 492.57 848.08 494.20 C848.39 495.84 848.71 497.47 849.04 499.10 C849.36 500.73 849.70 502.36 850.05 503.99 C850.40 505.61 850.77 507.23 851.14 508.85 C851.51 510.48 851.89 512.09 852.28 513.71 C852.67 515.33 853.07 516.94 853.47 518.56 C853.87 520.17 854.28 521.78 854.70 523.39 C855.11 525.01 855.53 526.62 855.96 528.23 C856.38 529.84 856.81 531.45 857.24 533.06 C857.67 534.67 858.10 536.28 858.54 537.89 C858.97 539.50 859.40 541.11 859.84 542.72 C860.27 544.33 860.70 545.94 861.13 547.56 C861.56 549.17 861.99 550.79 862.41 552.40 C862.84 554.02 863.26 555.64 863.68 557.26 C864.10 558.87 864.51 560.50 864.93 562.12 C865.34 563.74 865.75 565.36 866.17 566.98 C866.58 568.60 866.99 570.23 867.40 571.85 C867.81 573.47 868.22 575.10 868.63 576.72 C869.04 578.35 869.45 579.97 869.86 581.60 C870.27 583.22 870.68 584.84 871.09 586.47 C871.50 588.09 871.92 589.71 872.33 591.34 C872.75 592.96 873.17 594.58 873.59 596.20 C874.01 597.82 874.43 599.44 874.85 601.06 C875.28 602.68 875.71 604.30 876.14 605.92 C876.57 607.53 877.01 609.15 877.45 610.76 C877.89 612.37 878.33 613.99 878.78 615.60 C879.23 617.20 879.68 618.81 880.14 620.42 C880.60 622.02 881.07 623.63 881.54 625.23 C882.01 626.83 882.49 628.43 882.97 630.02 C883.46 631.62 883.95 633.21 884.45 634.80 C884.95 636.39 885.45 637.98 885.97 639.56 C886.48 641.15 887.00 642.73 887.53 644.30 C888.06 645.88 888.60 647.46 889.15 649.02 C889.70 650.59 890.25 652.16 890.82 653.72 C891.39 655.29 891.96 656.84 892.55 658.40 C893.14 659.95 893.74 661.50 894.34 663.05 C894.95 664.59 895.57 666.13 896.20 667.67 C896.83 669.20 897.47 670.74 898.12 672.27 C898.77 673.79 899.43 675.32 900.10 676.84 C900.77 678.36 901.45 679.87 902.14 681.39 C902.82 682.90 903.52 684.40 904.23 685.91 C904.94 687.41 905.66 688.91 906.39 690.41 C907.11 691.91 907.85 693.40 908.59 694.89 C909.34 696.38 910.09 697.86 910.86 699.34 C911.62 700.83 912.39 702.31 913.17 703.78 C913.95 705.25 914.74 706.73 915.54 708.19 C916.34 709.66 917.14 711.13 917.95 712.59 C918.77 714.05 919.59 715.51 920.42 716.96 C921.25 718.42 922.08 719.87 922.93 721.32 C923.77 722.77 924.63 724.22 925.49 725.66 C926.35 727.10 927.21 728.54 928.09 729.98 C928.96 731.42 929.84 732.85 930.73 734.28 C931.62 735.71 932.51 737.14 933.43 738.56 C934.34 739.98 935.27 741.39 936.22 742.78 C937.17 744.18 938.14 745.56 939.14 746.93 C940.15 748.29 941.17 749.64 942.24 750.96 C943.30 752.28 944.40 753.59 945.54 754.86 C946.69 756.13 947.87 757.40 949.10 758.60 C950.33 759.79 951.61 761.01 952.92 762.05 C954.22 763.08 955.58 764.07 956.94 764.78 C958.31 765.49 959.71 766.07 961.10 766.31 C962.49 766.56 963.93 766.51 965.30 766.23 C966.67 765.95 968.06 765.37 969.34 764.63 C970.61 763.90 971.85 762.91 972.95 761.81 C974.05 760.72 975.04 759.43 975.94 758.07 C976.85 756.71 977.63 755.19 978.38 753.65 C979.12 752.10 979.78 750.45 980.42 748.80 C981.06 747.15 981.64 745.44 982.24 743.76 C982.83 742.08 983.41 740.40 983.98 738.74 C984.56 737.08 985.13 735.44 985.69 733.80 C986.25 732.17 986.81 730.54 987.36 728.93 C987.91 727.31 988.46 725.71 989.00 724.11 C989.54 722.51 990.07 720.92 990.60 719.33 C991.12 717.75 991.64 716.17 992.16 714.59 C992.67 713.02 993.18 711.44 993.68 709.88 C994.18 708.31 994.68 706.74 995.16 705.17 C995.65 703.61 996.13 702.04 996.61 700.48 C997.08 698.91 997.55 697.34 998.01 695.77 C998.47 694.20 998.93 692.63 999.37 691.05 C999.82 689.48 1000.26 687.90 1000.69 686.31 C1001.13 684.73 1001.55 683.14 1001.97 681.54 C1002.39 679.95 1002.81 678.35 1003.21 676.75 C1003.62 675.15 1004.02 673.55 1004.42 671.94 C1004.82 670.33 1005.21 668.72 1005.59 667.11 C1005.98 665.50 1006.36 663.88 1006.74 662.26 C1007.11 660.64 1007.48 659.02 1007.85 657.39 C1008.21 655.77 1008.58 654.14 1008.93 652.51 C1009.29 650.88 1009.64 649.25 1009.99 647.62 C1010.34 645.98 1010.69 644.35 1011.03 642.71 C1011.37 641.07 1011.71 639.43 1012.05 637.79 C1012.38 636.15 1012.71 634.51 1013.04 632.86 C1013.37 631.22 1013.70 629.57 1014.02 627.93 C1014.35 626.28 1014.67 624.63 1014.99 622.99 C1015.31 621.34 1015.63 619.69 1015.94 618.04 C1016.26 616.39 1016.57 614.74 1016.89 613.09 C1017.20 611.44 1017.51 609.79 1017.82 608.14 C1018.13 606.49 1018.44 604.84 1018.75 603.19 C1019.06 601.54 1019.37 599.89 1019.68 598.24 C1019.99 596.59 1020.30 594.94 1020.60 593.29 C1020.91 591.65 1021.22 590.00 1021.53 588.35 C1021.84 586.71 1022.15 585.06 1022.46 583.42 C1022.77 581.77 1023.08 580.13 1023.39 578.49 C1023.70 576.84 1024.01 575.20 1024.32 573.56 C1024.63 571.92 1024.94 570.28 1025.25 568.64 C1025.56 567.00 1025.88 565.36 1026.19 563.73 C1026.50 562.09 1026.82 560.45 1027.13 558.81 C1027.44 557.18 1027.76 555.54 1028.07 553.91 C1028.38 552.27 1028.70 550.64 1029.01 549.00 C1029.33 547.37 1029.64 545.73 1029.96 544.10 C1030.27 542.47 1030.59 540.83 1030.91 539.20 C1031.22 537.57 1031.54 535.94 1031.85 534.30 C1032.17 532.67 1032.49 531.04 1032.80 529.41 C1033.12 527.78 1033.44 526.15 1033.76 524.51 C1034.07 522.88 1034.39 521.25 1034.71 519.62 C1035.03 517.99 1035.35 516.36 1035.66 514.73 C1035.98 513.10 1036.30 511.47 1036.62 509.84 C1036.94 508.20 1037.26 506.57 1037.58 504.94 C1037.89 503.31 1038.21 501.68 1038.53 500.05 C1038.85 498.42 1039.17 496.79 1039.49 495.15 C1039.81 493.52 1040.13 491.89 1040.45 490.26 C1040.77 488.62 1041.09 486.99 1041.41 485.36 C1041.73 483.72 1042.05 482.09 1042.37 480.46 C1042.69 478.82 1043.01 477.19 1043.33 475.55 C1043.65 473.92 1043.97 472.28 1044.29 470.65 C1044.61 469.01 1044.93 467.37 1045.25 465.74 C1045.57 464.10 1045.89 462.46 1046.21 460.82 C1046.53 459.18 1046.85 457.54 1047.17 455.90 C1047.49 454.26 1047.81 452.62 1048.13 450.98 C1048.45 449.34 1048.77 447.69 1049.10 446.05 C1049.42 444.41 1049.74 442.77 1050.06 441.12 C1050.39 439.48 1050.71 437.84 1051.04 436.20 C1051.36 434.55 1051.69 432.91 1052.02 431.27 C1052.34 429.62 1052.67 427.98 1053.00 426.34 C1053.33 424.69 1053.66 423.05 1054.00 421.41 C1054.33 419.77 1054.67 418.13 1055.00 416.49 C1055.34 414.84 1055.68 413.20 1056.02 411.56 C1056.36 409.92 1056.71 408.29 1057.05 406.65 C1057.40 405.01 1057.75 403.37 1058.10 401.74 C1058.45 400.10 1058.80 398.46 1059.16 396.83 C1059.52 395.19 1059.87 393.56 1060.24 391.93 C1060.60 390.30 1060.96 388.67 1061.33 387.04 C1061.70 385.41 1062.07 383.78 1062.45 382.15 C1062.82 380.53 1063.20 378.90 1063.59 377.28 C1063.97 375.66 1064.35 374.04 1064.74 372.42 C1065.13 370.80 1065.53 369.18 1065.93 367.57 C1066.33 365.95 1066.73 364.34 1067.14 362.73 C1067.54 361.12 1067.95 359.51 1068.37 357.90 C1068.79 356.29 1069.21 354.69 1069.63 353.09 C1070.06 351.48 1070.49 349.89 1070.92 348.29 C1071.36 346.69 1071.80 345.10 1072.24 343.51 C1072.69 341.91 1073.14 340.33 1073.60 338.74 C1074.05 337.15 1074.52 335.57 1074.99 333.99 C1075.46 332.41 1075.94 330.83 1076.43 329.26 C1076.93 327.69 1077.43 326.11 1077.95 324.55 C1078.47 322.98 1079.00 321.41 1079.55 319.85 C1080.11 318.29 1080.67 316.73 1081.26 315.18 C1081.85 313.62 1082.46 312.07 1083.10 310.52 C1083.73 308.97 1084.38 307.42 1085.07 305.88 C1085.75 304.34 1086.46 302.80 1087.19 301.26 C1087.93 299.73 1088.70 298.20 1089.49 296.67 C1090.29 295.14 1091.12 293.61 1091.98 292.09 C1092.85 290.57 1093.74 289.04 1094.68 287.55 C1095.62 286.06 1096.59 284.58 1097.60 283.16 C1098.61 281.74 1099.66 280.34 1100.75 279.03 C1101.85 277.72 1102.98 276.45 1104.16 275.29 C1105.34 274.13 1106.57 273.03 1107.84 272.06 C1109.11 271.10 1110.43 270.21 1111.79 269.48 C1113.16 268.74 1114.58 268.13 1116.05 267.66 C1117.51 267.19 1119.04 266.88 1120.60 266.68 C1122.15 266.47 1123.76 266.42 1125.38 266.44 C1127.00 266.46 1128.66 266.60 1130.33 266.80 C1131.99 267.00 1133.68 267.30 1135.37 267.63 C1137.05 267.96 1138.75 268.37 1140.43 268.79 C1142.10 269.20 1143.78 269.67 1145.43 270.13 C1147.09 270.60 1148.73 271.09 1150.35 271.59 C1151.98 272.10 1153.60 272.62 1155.20 273.15 C1156.81 273.67 1158.40 274.22 1159.99 274.77 C1161.57 275.32 1163.15 275.89 1164.72 276.45 C1166.29 277.02 1167.85 277.60 1169.41 278.18 C1170.98 278.75 1172.53 279.34 1174.08 279.92 C1175.63 280.50 1177.18 281.09 1178.73 281.67 C1180.28 282.25 1181.83 282.83 1183.38 283.41 C1184.93 283.98 1186.48 284.55 1188.03 285.12 C1189.59 285.68 1191.14 286.23 1192.71 286.78 C1194.27 287.32 1195.83 287.86 1197.40 288.39 C1198.97 288.91 1200.55 289.43 1202.12 289.94 C1203.70 290.46 1205.28 290.96 1206.86 291.45 C1208.45 291.95 1210.03 292.44 1211.62 292.92 C1213.21 293.40 1214.81 293.87 1216.40 294.34 C1218.00 294.81 1219.60 295.27 1221.20 295.72 C1222.80 296.18 1224.40 296.63 1226.01 297.07 C1227.62 297.51 1229.23 297.95 1230.84 298.38 C1232.45 298.81 1234.06 299.24 1235.68 299.66 C1237.29 300.08 1238.91 300.50 1240.53 300.91 C1242.15 301.32 1243.77 301.73 1245.39 302.13 C1247.01 302.54 1248.64 302.94 1250.26 303.33 C1251.89 303.73 1253.51 304.12 1255.14 304.51 C1256.77 304.91 1258.40 305.29 1260.02 305.68 C1261.65 306.06 1263.28 306.44 1264.91 306.82 C1266.55 307.20 1268.18 307.58 1269.81 307.96 C1271.44 308.33 1273.07 308.71 1274.70 309.08 C1276.34 309.46 1277.97 309.83 1279.60 310.20 C1281.23 310.57 1282.87 310.94 1284.50 311.31 C1286.13 311.68 1287.76 312.05 1289.39 312.42 C1291.03 312.79 1292.66 313.16 1294.29 313.53 C1295.92 313.90 1297.55 314.27 1299.18 314.64 C1300.81 315.01 1302.44 315.38 1304.07 315.76 C1305.70 316.13 1307.33 316.50 1308.96 316.87 C1310.59 317.24 1312.21 317.62 1313.84 317.99 C1315.47 318.36 1317.10 318.74 1318.72 319.11 C1320.35 319.49 1321.98 319.87 1323.60 320.24 C1325.23 320.62 1326.85 321.00 1328.48 321.38 C1330.10 321.76 1331.73 322.14 1333.35 322.53 C1334.97 322.91 1336.60 323.30 1338.22 323.68 C1339.84 324.07 1341.46 324.46 1343.08 324.85 C1344.70 325.24 1346.32 325.63 1347.94 326.03 C1349.56 326.43 1351.18 326.82 1352.80 327.22 C1354.41 327.62 1356.03 328.03 1357.65 328.43 C1359.26 328.84 1360.88 329.24 1362.49 329.65 C1364.11 330.07 1365.72 330.48 1367.33 330.90 C1368.95 331.31 1370.56 331.73 1372.17 332.15 C1373.78 332.58 1375.39 333.00 1377.00 333.43 C1378.61 333.86 1380.21 334.30 1381.82 334.73 C1383.43 335.17 1385.03 335.61 1386.64 336.05 C1388.24 336.50 1389.85 336.95 1391.45 337.40 C1393.05 337.85 1394.65 338.30 1396.25 338.77 C1397.85 339.23 1399.45 339.69 1401.05 340.16 C1402.65 340.63 1404.25 341.10 1405.84 341.58 C1407.44 342.06 1409.03 342.54 1410.62 343.03 C1412.22 343.51 1413.81 344.01 1415.40 344.50 C1416.99 345.00 1418.58 345.50 1420.17 346.01 C1421.76 346.52 1423.34 347.03 1424.93 347.55 C1426.51 348.07 1428.10 348.59 1429.68 349.12 C1431.26 349.65 1432.84 350.18 1434.42 350.73 C1436.00 351.27 1437.58 351.81 1439.16 352.37 C1440.73 352.92 1442.31 353.48 1443.88 354.04 C1445.46 354.61 1447.03 355.18 1448.60 355.75 C1450.17 356.33 1451.74 356.92 1453.30 357.51 C1454.87 358.10 1457.22 359.00 1458.00 359.30" fill="none" stroke="#000000" stroke-width="6.00" stroke-linejoin="round" stroke-linecap="butt" clip-path="url(#cb)"/>
<path d="M835.6 365.8 L1067.6 365.8" fill="none" stroke="#ff00ff" stroke-width="6.40" stroke-linejoin="round" stroke-linecap="butt"/>
<path d="M841.4 460.8 L1044.4 460.8" fill="none" stroke="#ffa500" stroke-width="6.20" stroke-linejoin="round" stroke-linecap="butt"/>
</g>
<g id="frames">
<rect x="141.20" y="104.20" width="654.00" height="993.60" fill="none" stroke="#000" stroke-width="5.20"/>
<path d="M206.60 104.20 v13.30 M206.60 1097.80 v-13.30 M141.20 203.56 h26.30 M795.20 203.56 h-26.30 M272.00 104.20 v26.30 M272.00 1097.80 v-26.30 M141.20 302.92 h13.30 M795.20 302.92 h-13.30 M337.40 104.20 v13.30 M337.40 1097.80 v-13.30 M141.20 402.28 h26.30 M795.20 402.28 h-26.30 M402.80 104.20 v26.30 M402.80 1097.80 v-26.30 M141.20 501.64 h13.30 M795.20 501.64 h-13.30 M468.20 104.20 v13.30 M468.20 1097.80 v-13.30 M141.20 601.00 h26.30 M795.20 601.00 h-26.30 M533.60 104.20 v26.30 M533.60 1097.80 v-26.30 M141.20 700.36 h13.30 M795.20 700.36 h-13.30 M599.00 104.20 v13.30 M599.00 1097.80 v-13.30 M141.20 799.72 h26.30 M795.20 799.72 h-26.30 M664.40 104.20 v26.30 M664.40 1097.80 v-26.30 M141.20 899.08 h13.30 M795.20 899.08 h-13.30 M729.80 104.20 v13.30 M729.80 1097.80 v-13.30 M141.20 998.44 h26.30 M795.20 998.44 h-26.30" fill="none" stroke="#000" stroke-width="5.00"/>
<rect x="803.40" y="104.20" width="654.80" height="993.60" fill="none" stroke="#000" stroke-width="5.20"/>
<path d="M868.88 104.20 v13.30 M868.88 1097.80 v-13.30 M803.40 203.56 h26.30 M1458.20 203.56 h-26.30 M934.36 104.20 v26.30 M934.36 1097.80 v-26.30 M803.40 302.92 h13.30 M1458.20 302.92 h-13.30 M999.84 104.20 v13.30 M999.84 1097.80 v-13.30 M803.40 402.28 h26.30 M1458.20 402.28 h-26.30 M1065.32 104.20 v26.30 M1065.32 1097.80 v-26.30 M803.40 501.64 h13.30 M1458.20 501.64 h-13.30 M1130.80 104.20 v13.30 M1130.80 1097.80 v-13.30 M803.40 601.00 h26.30 M1458.20 601.00 h-26.30 M1196.28 104.20 v26.30 M1196.28 1097.80 v-26.30 M803.40 700.36 h13.30 M1458.20 700.36 h-13.30 M1261.76 104.20 v13.30 M1261.76 1097.80 v-13.30 M803.40 799.72 h26.30 M1458.20 799.72 h-26.30 M1327.24 104.20 v26.30 M1327.24 1097.80 v-26.30 M803.40 899.08 h13.30 M1458.20 899.08 h-13.30 M1392.72 104.20 v13.30 M1392.72 1097.80 v-13.30 M803.40 998.44 h26.30 M1458.20 998.44 h-26.30" fill="none" stroke="#000" stroke-width="5.00"/>
</g>
<g id="arrows">
<path d="M474.50 110 L474.50 346" fill="none" stroke="#00ffff" stroke-width="6.30" stroke-linejoin="round" stroke-linecap="butt"/>
<path d="M461.40 129.10 L474.50 108.40 L487.60 129.10" fill="none" stroke="#00ffff" stroke-width="5.40" stroke-linejoin="miter" stroke-miterlimit="10"/>
<path d="M461.40 326.70 L474.50 347.40 L487.60 326.70" fill="none" stroke="#00ffff" stroke-width="5.40" stroke-linejoin="miter" stroke-miterlimit="10"/>
<path d="M474.70 360 L474.70 398" fill="none" stroke="#9400d3" stroke-width="6.20" stroke-linejoin="round" stroke-linecap="butt"/>
<path d="M474.70 349.70 L464.20 370.60 L468.90 373.00 L471.65 368.00 L477.75 368.00 L480.50 373.00 L485.20 370.60 Z" fill="#9400d3"/>
<path d="M474.70 408.40 L464.20 387.50 L468.90 385.10 L471.65 390.10 L477.75 390.10 L480.50 385.10 L485.20 387.50 Z" fill="#9400d3"/>
<path d="M547.2 424.4 L484 379.3" fill="none" stroke="#9400d3" stroke-width="4.80" stroke-linejoin="round" stroke-linecap="butt"/>
<path d="M503.5 380.1 L482.6 378.2 L490.7 396.7" fill="none" stroke="#9400d3" stroke-width="4.6" stroke-linejoin="miter"/>
<path d="M1125.60 108 L1125.60 263" fill="none" stroke="#00ffff" stroke-width="6.30" stroke-linejoin="round" stroke-linecap="butt"/>
<path d="M1112.50 127.30 L1125.60 106.60 L1138.70 127.30" fill="none" stroke="#00ffff" stroke-width="5.40" stroke-linejoin="miter" stroke-miterlimit="10"/>
<path d="M1112.50 244.20 L1125.60 264.90 L1138.70 244.20" fill="none" stroke="#00ffff" stroke-width="5.40" stroke-linejoin="miter" stroke-miterlimit="10"/>
<path d="M1127.40 270 L1127.40 398" fill="none" stroke="#9400d3" stroke-width="6.20" stroke-linejoin="round" stroke-linecap="butt"/>
<path d="M1127.40 259.30 L1116.90 280.20 L1121.60 282.60 L1124.35 277.60 L1130.45 277.60 L1133.20 282.60 L1137.90 280.20 Z" fill="#9400d3"/>
<path d="M1127.40 408.20 L1116.90 387.30 L1121.60 384.90 L1124.35 389.90 L1130.45 389.90 L1133.20 384.90 L1137.90 387.30 Z" fill="#9400d3"/>
</g>
<g id="labels">
<text x="471.00" y="44.10" font-size="55.80" fill="#000" stroke="#000" stroke-width="0.45" text-anchor="middle">Neutron subsystem</text>
<text x="471.00" y="89.00" font-size="55.50" fill="#000" stroke="#000" stroke-width="0.45" text-anchor="middle">of neutron-rich nuclei</text>
<text x="1133.90" y="38.40" font-size="55.80" fill="#000" stroke="#000" stroke-width="0.45" text-anchor="middle">Proton subsystem</text>
<text x="1128.60" y="87.50" font-size="55.50" fill="#000" stroke="#000" stroke-width="0.45" text-anchor="middle">of proton-rich nuclei</text>
<text x="612.30" y="1174.50" font-size="74.40" fill="#000" stroke="#000" stroke-width="0.45" text-anchor="start">Radius  r</text>
<text transform="translate(43.8 814.5) rotate(-90)" font-size="64.5" fill="#000" stroke="#000" stroke-width="0.45" xml:space="preserve" style="white-space:pre">Potentials  <tspan dx="-2">V</tspan><tspan font-size="45.5" dy="25" dx="2">i</tspan><tspan dy="-25" dx="3.6"> (r)</tspan></text>
<text x="103.40" y="416.00" font-size="50.00" fill="#000" stroke="#000" stroke-width="0.45" text-anchor="start">0</text>
<text x="1477.50" y="416.50" font-size="50.00" fill="#000" stroke="#000" stroke-width="0.45" text-anchor="start">0</text>
<text x="683.30" y="1043.20" font-size="72.00" fill="#000" stroke="#000" stroke-width="0.45" text-anchor="start">(a)</text>
<text x="1345.30" y="1043.20" font-size="72.00" fill="#000" stroke="#000" stroke-width="0.45" text-anchor="start">(b)</text>
<text x="299.20" y="250.00" font-size="46.50" fill="#0000ff" stroke="#0000ff" stroke-width="0.50" class="b">V<tspan font-size="33.50" dy="17.40" dx="-0.80">cfg</tspan></text>
<text x="225.60" y="721.00" font-size="46.00" fill="#000000" stroke="#000000" stroke-width="0.50" class="b">V<tspan font-size="33.50" dy="17.40" dx="-1.00">eff</tspan></text>
<text x="350.20" y="951.00" font-size="46.00" fill="#ff0000" stroke="#ff0000" stroke-width="0.50" class="b">V<tspan font-size="33.50" dy="17.40" dx="-1.00">nucl</tspan></text>
<text x="241.90" y="358.50" font-size="52.00" fill="#ff00ff" stroke="#ff00ff" stroke-width="0.50" class="b" text-anchor="start">|</text>
<text x="252.70" y="356.00" font-size="45.00" fill="#ff00ff" stroke="#ff00ff" stroke-width="0.50" class="b" text-anchor="start">QB<tspan dx="1.3" dy="1.4" stroke-width="1.7">&gt;</tspan></text>
<text x="253.10" y="496.60" font-size="52.00" fill="#ffa500" stroke="#ffa500" stroke-width="0.50" class="b" text-anchor="start">|</text>
<text x="264.20" y="494.20" font-size="45.00" fill="#ffa500" stroke="#ffa500" stroke-width="0.50" class="b" text-anchor="start">B<tspan dx="1.3" dy="1.4" stroke-width="1.7">&gt;</tspan></text>
<text x="555.20" y="450.60" font-size="47.50" fill="#9400d3" stroke="#9400d3" stroke-width="0.50" class="b">E<tspan font-size="33.50" dy="19.50" dx="0.00">B</tspan></text>
<text x="497.00" y="223.80" font-size="46.40" fill="#00ffff" stroke="#00ffff" stroke-width="0.50" class="b" text-anchor="start">scattering</text>
<text x="499.00" y="265.00" font-size="46.40" fill="#00ffff" stroke="#00ffff" stroke-width="0.50" class="b" text-anchor="start">continuum</text>
<text x="892.60" y="251.00" font-size="46.00" fill="#0000ff" stroke="#0000ff" stroke-width="0.50" class="b">V<tspan font-size="33.50" dy="17.40" dx="-0.80">cfg</tspan></text>
<text x="990.00" y="277.00" font-size="46.00" fill="#008b00" stroke="#008b00" stroke-width="0.50" class="b">V<tspan font-size="32.60" dy="17.40" dx="-0.50">coul</tspan></text>
<text x="850.60" y="776.00" font-size="46.00" fill="#000000" stroke="#000000" stroke-width="0.50" class="b">V<tspan font-size="33.50" dy="17.40" dx="-1.60">eff</tspan></text>
<text x="1019.50" y="941.50" font-size="46.00" fill="#ff0000" stroke="#ff0000" stroke-width="0.50" class="b">V<tspan font-size="33.50" dy="17.40" dx="-1.00">nucl</tspan></text>
<text x="837.90" y="354.00" font-size="52.00" fill="#ff00ff" stroke="#ff00ff" stroke-width="0.50" class="b" text-anchor="start">|</text>
<text x="848.70" y="350.00" font-size="45.00" fill="#ff00ff" stroke="#ff00ff" stroke-width="0.50" class="b" text-anchor="start">QB<tspan dx="1.3" dy="1.4" stroke-width="1.7">&gt;</tspan></text>
<text x="905.90" y="504.60" font-size="52.00" fill="#ffa500" stroke="#ffa500" stroke-width="0.50" class="b" text-anchor="start">|</text>
<text x="917.20" y="503.00" font-size="45.00" fill="#ffa500" stroke="#ffa500" stroke-width="0.50" class="b" text-anchor="start">B<tspan dx="1.3" dy="1.4" stroke-width="1.7">&gt;</tspan></text>
<text x="1137.20" y="348.40" font-size="47.50" fill="#9400d3" stroke="#9400d3" stroke-width="0.50" class="b">E<tspan font-size="33.50" dy="19.50" dx="0.00">B</tspan></text>
<text x="1163.00" y="176.60" font-size="46.40" fill="#00ffff" stroke="#00ffff" stroke-width="0.50" class="b" text-anchor="start">scattering</text>
<text x="1161.00" y="218.50" font-size="46.40" fill="#00ffff" stroke="#00ffff" stroke-width="0.50" class="b" text-anchor="start">continuum</text>
</g>
</svg>
</body></html>
